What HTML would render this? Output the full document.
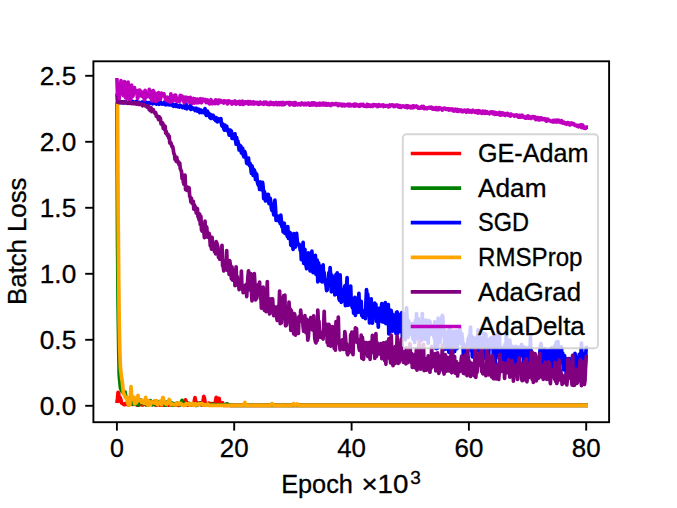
<!DOCTYPE html>
<html><head><meta charset="utf-8"><title>Batch Loss</title>
<style>
html,body{margin:0;padding:0;background:#fff;}
body{width:677px;height:508px;overflow:hidden;font-family:"Liberation Sans",sans-serif;}
svg{display:block;}
svg text{font-family:"Liberation Sans",sans-serif;font-size:25.2px;fill:#000;stroke:#000;stroke-width:0.3px;}
</style></head><body>
<svg width="677" height="508" viewBox="0 0 677 508">
<rect width="677" height="508" fill="#fff"/>
<g fill="none" stroke-width="3.7" stroke-linejoin="round" stroke-linecap="butt">
<path d="M116.9,402.9 L117.5,398.3 L118.1,392.3 L118.7,393.7 L119.2,399.7 L119.8,400.9 L120.4,397.9 L121.0,400.2 L121.6,403.2 L122.2,403.2 L122.8,403.8 L123.4,403.8 L123.9,404.7 L124.5,404.7 L125.1,403.7 L125.7,403.7 L126.3,403.5 L126.9,403.5 L127.5,404.6 L128.1,404.6 L128.6,404.0 L129.2,404.0 L129.8,403.3 L130.4,403.3 L131.0,403.4 L131.6,403.4 L132.2,404.4 L132.8,404.4 L133.3,403.5 L133.9,403.5 L134.5,403.1 L135.1,403.1 L135.7,403.2 L136.3,403.2 L136.9,405.1 L137.5,405.1 L138.0,404.5 L138.6,404.5 L139.2,404.6 L139.8,404.6 L140.4,404.1 L141.0,404.1 L141.6,404.8 L142.2,404.8 L142.7,404.9 L143.3,404.9 L143.9,403.4 L144.5,403.4 L145.1,404.2 L145.7,404.2 L146.3,404.7 L146.9,404.7 L147.4,404.9 L148.0,404.9 L148.6,404.4 L149.2,404.4 L149.8,403.3 L150.4,403.3 L151.0,403.8 L151.6,403.8 L152.1,403.3 L152.7,403.3 L153.3,403.3 L153.9,403.3 L154.5,402.8 L155.1,402.8 L155.7,405.2 L156.3,405.2 L156.8,403.5 L157.4,403.5 L158.0,404.8 L158.6,404.8 L159.2,404.7 L159.8,404.7 L160.4,405.1 L161.0,405.1 L161.5,403.4 L162.1,403.4 L162.7,405.2 L163.3,405.2 L163.9,403.9 L164.5,403.9 L165.1,404.8 L165.7,404.8 L166.2,403.4 L166.8,403.4 L167.4,404.5 L168.0,404.5 L168.6,405.1 L169.2,405.1 L169.8,403.0 L170.3,403.0 L170.9,404.7 L171.5,404.7 L172.1,404.3 L172.7,404.3 L173.3,404.8 L173.9,404.8 L174.5,404.8 L175.0,404.8 L175.6,404.2 L176.2,404.2 L176.8,405.2 L177.4,405.2 L178.0,405.3 L178.6,405.3 L179.2,403.8 L179.7,403.8 L180.3,404.4 L180.9,404.4 L181.5,402.9 L182.1,402.9 L182.7,402.9 L183.3,402.9 L183.9,405.3 L184.4,404.3 L185.0,402.1 L185.6,399.8 L186.2,401.5 L186.8,403.7 L187.4,405.1 L188.0,405.1 L188.6,403.5 L189.1,403.5 L189.7,404.3 L190.3,404.3 L190.9,404.6 L191.5,404.6 L192.1,404.1 L192.7,404.1 L193.3,404.9 L193.8,403.5 L194.4,400.5 L195.0,397.6 L195.6,400.7 L196.2,403.7 L196.8,402.9 L197.4,402.9 L198.0,403.8 L198.5,403.8 L199.1,403.3 L199.7,403.3 L200.3,402.9 L200.9,402.9 L201.5,405.1 L202.1,405.1 L202.7,403.3 L203.2,400.3 L203.8,396.3 L204.4,397.9 L205.0,401.9 L205.6,404.1 L206.2,403.9 L206.8,403.9 L207.4,403.8 L207.9,403.8 L208.5,403.2 L209.1,403.2 L209.7,404.8 L210.3,404.8 L210.9,403.8 L211.5,403.8 L212.1,403.5 L212.6,403.5 L213.2,404.4 L213.8,404.4 L214.4,405.0 L215.0,404.2 L215.6,400.7 L216.2,397.3 L216.8,399.1 L217.3,402.6 L217.9,401.7 L218.5,398.3 L219.1,398.4 L219.7,401.8 L220.3,403.7 L220.9,403.7 L221.4,403.0 L222.0,403.0 L222.6,402.9 L223.2,405.3 L223.8,405.3 L224.4,405.3 L225.0,405.3 L225.6,405.3 L226.1,405.3 L226.7,405.3 L227.3,405.3 L227.9,405.3 L228.5,405.3 L229.1,405.3 L229.7,405.3 L230.3,405.3 L230.8,405.3 L231.4,405.3 L232.0,405.3 L232.6,405.3 L233.2,405.3 L233.8,405.3 L234.4,405.3 L235.0,405.3 L235.5,405.3 L236.1,405.3 L236.7,405.3 L237.3,405.3 L237.9,405.3 L238.5,405.3 L239.1,405.3 L239.7,405.3 L240.2,405.3 L240.8,405.3 L241.4,405.3 L242.0,405.3 L242.6,405.3 L243.2,405.3 L243.8,405.3 L244.4,405.3 L244.9,405.3 L245.5,405.3 L246.1,405.3 L246.7,405.3 L247.3,405.3 L247.9,405.3 L248.5,405.3 L249.1,405.3 L249.6,405.3 L250.2,405.3 L250.8,405.3 L251.4,405.3 L252.0,405.3 L252.6,405.3 L253.2,405.3 L253.8,405.3 L254.3,405.3 L254.9,405.3 L255.5,405.3 L256.1,405.3 L256.7,405.3 L257.3,405.3 L257.9,405.3 L258.5,405.3 L259.0,405.3 L259.6,405.3 L260.2,405.3 L260.8,405.3 L261.4,405.3 L262.0,405.3 L262.6,405.3 L263.2,405.3 L263.7,405.3 L264.3,405.3 L264.9,405.3 L265.5,405.3 L266.1,405.3 L266.7,405.3 L267.3,405.3 L267.9,405.3 L268.4,405.3 L269.0,405.3 L269.6,405.3 L270.2,405.3 L270.8,405.3 L271.4,405.3 L272.0,405.3 L272.6,405.3 L273.1,405.3 L273.7,405.3 L274.3,405.3 L274.9,405.3 L275.5,405.3 L276.1,405.3 L276.7,405.3 L277.2,405.3 L277.8,405.3 L278.4,405.3 L279.0,405.3 L279.6,405.3 L280.2,405.3 L280.8,405.3 L281.4,405.3 L281.9,405.3 L282.5,405.3 L283.1,405.3 L283.7,405.3 L284.3,405.3 L284.9,405.3 L285.5,405.3 L286.1,405.3 L286.6,405.3 L287.2,405.3 L287.8,405.3 L288.4,405.3 L289.0,405.3 L289.6,405.3 L290.2,405.3 L290.8,405.3 L291.3,405.3 L291.9,405.3 L292.5,405.3 L293.1,405.3 L293.7,405.3 L294.3,405.3 L294.9,405.3 L295.5,405.3 L296.0,405.3 L296.6,405.3 L297.2,405.3 L297.8,405.3 L298.4,405.3 L299.0,405.3 L299.6,405.3 L300.2,405.3 L300.7,405.3 L301.3,405.3 L301.9,405.3 L302.5,405.3 L303.1,405.3 L303.7,405.3 L304.3,405.3 L304.9,405.3 L305.4,405.3 L306.0,405.3 L306.6,405.3 L307.2,405.3 L307.8,405.3 L308.4,405.3 L309.0,405.3 L309.6,405.3 L310.1,405.3 L310.7,405.3 L311.3,405.3 L311.9,405.3 L312.5,405.3 L313.1,405.3 L313.7,405.3 L314.3,405.3 L314.8,405.3 L315.4,405.3 L316.0,405.3 L316.6,405.3 L317.2,405.3 L317.8,405.3 L318.4,405.3 L319.0,405.3 L319.5,405.3 L320.1,405.3 L320.7,405.3 L321.3,405.3 L321.9,405.3 L322.5,405.3 L323.1,405.3 L323.7,405.3 L324.2,405.3 L324.8,405.3 L325.4,405.3 L326.0,405.3 L326.6,405.3 L327.2,405.3 L327.8,405.3 L328.3,405.3 L328.9,405.3 L329.5,405.3 L330.1,405.3 L330.7,405.3 L331.3,405.3 L331.9,405.3 L332.5,405.3 L333.0,405.3 L333.6,405.3 L334.2,405.3 L334.8,405.3 L335.4,405.3 L336.0,405.3 L336.6,405.3 L337.2,405.3 L337.7,405.3 L338.3,405.3 L338.9,405.3 L339.5,405.3 L340.1,405.3 L340.7,405.3 L341.3,405.3 L341.9,405.3 L342.4,405.3 L343.0,405.3 L343.6,405.3 L344.2,405.3 L344.8,405.3 L345.4,405.3 L346.0,405.3 L346.6,405.3 L347.1,405.3 L347.7,405.3 L348.3,405.3 L348.9,405.3 L349.5,405.3 L350.1,405.3 L350.7,405.3 L351.3,405.3 L351.8,405.3 L352.4,405.3 L353.0,405.3 L353.6,405.3 L354.2,405.3 L354.8,405.3 L355.4,405.3 L356.0,405.3 L356.5,405.3 L357.1,405.3 L357.7,405.3 L358.3,405.3 L358.9,405.3 L359.5,405.3 L360.1,405.3 L360.7,405.3 L361.2,405.3 L361.8,405.3 L362.4,405.3 L363.0,405.3 L363.6,405.3 L364.2,405.3 L364.8,405.3 L365.4,405.3 L365.9,405.3 L366.5,405.3 L367.1,405.3 L367.7,405.3 L368.3,405.3 L368.9,405.3 L369.5,405.3 L370.1,405.3 L370.6,405.3 L371.2,405.3 L371.8,405.3 L372.4,405.3 L373.0,405.3 L373.6,405.3 L374.2,405.3 L374.8,405.3 L375.3,405.3 L375.9,405.3 L376.5,405.3 L377.1,405.3 L377.7,405.3 L378.3,405.3 L378.9,405.3 L379.4,405.3 L380.0,405.3 L380.6,405.3 L381.2,405.3 L381.8,405.3 L382.4,405.3 L383.0,405.3 L383.6,405.3 L384.1,405.3 L384.7,405.3 L385.3,405.3 L385.9,405.3 L386.5,405.3 L387.1,405.3 L387.7,405.3 L388.3,405.3 L388.8,405.3 L389.4,405.3 L390.0,405.3 L390.6,405.3 L391.2,405.3 L391.8,405.3 L392.4,405.3 L393.0,405.3 L393.5,405.3 L394.1,405.3 L394.7,405.3 L395.3,405.3 L395.9,405.3 L396.5,405.3 L397.1,405.3 L397.7,405.3 L398.2,405.3 L398.8,405.3 L399.4,405.3 L400.0,405.3 L400.6,405.3 L401.2,405.3 L401.8,405.3 L402.4,405.3 L402.9,405.3 L403.5,405.3 L404.1,405.3 L404.7,405.3 L405.3,405.3 L405.9,405.3 L406.5,405.3 L407.1,405.3 L407.6,405.3 L408.2,405.3 L408.8,405.3 L409.4,405.3 L410.0,405.3 L410.6,405.3 L411.2,405.3 L411.8,405.3 L412.3,405.3 L412.9,405.3 L413.5,405.3 L414.1,405.3 L414.7,405.3 L415.3,405.3 L415.9,405.3 L416.5,405.3 L417.0,405.3 L417.6,405.3 L418.2,405.3 L418.8,405.3 L419.4,405.3 L420.0,405.3 L420.6,405.3 L421.2,405.3 L421.7,405.3 L422.3,405.3 L422.9,405.3 L423.5,405.3 L424.1,405.3 L424.7,405.3 L425.3,405.3 L425.9,405.3 L426.4,405.3 L427.0,405.3 L427.6,405.3 L428.2,405.3 L428.8,405.3 L429.4,405.3 L430.0,405.3 L430.5,405.3 L431.1,405.3 L431.7,405.3 L432.3,405.3 L432.9,405.3 L433.5,405.3 L434.1,405.3 L434.7,405.3 L435.2,405.3 L435.8,405.3 L436.4,405.3 L437.0,405.3 L437.6,405.3 L438.2,405.3 L438.8,405.3 L439.4,405.3 L439.9,405.3 L440.5,405.3 L441.1,405.3 L441.7,405.3 L442.3,405.3 L442.9,405.3 L443.5,405.3 L444.1,405.3 L444.6,405.3 L445.2,405.3 L445.8,405.3 L446.4,405.3 L447.0,405.3 L447.6,405.3 L448.2,405.3 L448.8,405.3 L449.3,405.3 L449.9,405.3 L450.5,405.3 L451.1,405.3 L451.7,405.3 L452.3,405.3 L452.9,405.3 L453.5,405.3 L454.0,405.3 L454.6,405.3 L455.2,405.3 L455.8,405.3 L456.4,405.3 L457.0,405.3 L457.6,405.3 L458.2,405.3 L458.7,405.3 L459.3,405.3 L459.9,405.3 L460.5,405.3 L461.1,405.3 L461.7,405.3 L462.3,405.3 L462.9,405.3 L463.4,405.3 L464.0,405.3 L464.6,405.3 L465.2,405.3 L465.8,405.3 L466.4,405.3 L467.0,405.3 L467.6,405.3 L468.1,405.3 L468.7,405.3 L469.3,405.3 L469.9,405.3 L470.5,405.3 L471.1,405.3 L471.7,405.3 L472.3,405.3 L472.8,405.3 L473.4,405.3 L474.0,405.3 L474.6,405.3 L475.2,405.3 L475.8,405.3 L476.4,405.3 L477.0,405.3 L477.5,405.3 L478.1,405.3 L478.7,405.3 L479.3,405.3 L479.9,405.3 L480.5,405.3 L481.1,405.3 L481.7,405.3 L482.2,405.3 L482.8,405.3 L483.4,405.3 L484.0,405.3 L484.6,405.3 L485.2,405.3 L485.8,405.3 L486.3,405.3 L486.9,405.3 L487.5,405.3 L488.1,405.3 L488.7,405.3 L489.3,405.3 L489.9,405.3 L490.5,405.3 L491.0,405.3 L491.6,405.3 L492.2,405.3 L492.8,405.3 L493.4,405.3 L494.0,405.3 L494.6,405.3 L495.2,405.3 L495.7,405.3 L496.3,405.3 L496.9,405.3 L497.5,405.3 L498.1,405.3 L498.7,405.3 L499.3,405.3 L499.9,405.3 L500.4,405.3 L501.0,405.3 L501.6,405.3 L502.2,405.3 L502.8,405.3 L503.4,405.3 L504.0,405.3 L504.6,405.3 L505.1,405.3 L505.7,405.3 L506.3,405.3 L506.9,405.3 L507.5,405.3 L508.1,405.3 L508.7,405.3 L509.3,405.3 L509.8,405.3 L510.4,405.3 L511.0,405.3 L511.6,405.3 L512.2,405.3 L512.8,405.3 L513.4,405.3 L514.0,405.3 L514.5,405.3 L515.1,405.3 L515.7,405.3 L516.3,405.3 L516.9,405.3 L517.5,405.3 L518.1,405.3 L518.7,405.3 L519.2,405.3 L519.8,405.3 L520.4,405.3 L521.0,405.3 L521.6,405.3 L522.2,405.3 L522.8,405.3 L523.4,405.3 L523.9,405.3 L524.5,405.3 L525.1,405.3 L525.7,405.3 L526.3,405.3 L526.9,405.3 L527.5,405.3 L528.1,405.3 L528.6,405.3 L529.2,405.3 L529.8,405.3 L530.4,405.3 L531.0,405.3 L531.6,405.3 L532.2,405.3 L532.8,405.3 L533.3,405.3 L533.9,405.3 L534.5,405.3 L535.1,405.3 L535.7,405.3 L536.3,405.3 L536.9,405.3 L537.4,405.3 L538.0,405.3 L538.6,405.3 L539.2,405.3 L539.8,405.3 L540.4,405.3 L541.0,405.3 L541.6,405.3 L542.1,405.3 L542.7,405.3 L543.3,405.3 L543.9,405.3 L544.5,405.3 L545.1,405.3 L545.7,405.3 L546.3,405.3 L546.8,405.3 L547.4,405.3 L548.0,405.3 L548.6,405.3 L549.2,405.3 L549.8,405.3 L550.4,405.3 L551.0,405.3 L551.5,405.3 L552.1,405.3 L552.7,405.3 L553.3,405.3 L553.9,405.3 L554.5,405.3 L555.1,405.3 L555.7,405.3 L556.2,405.3 L556.8,405.3 L557.4,405.3 L558.0,405.3 L558.6,405.3 L559.2,405.3 L559.8,405.3 L560.4,405.3 L560.9,405.3 L561.5,405.3 L562.1,405.3 L562.7,405.3 L563.3,405.3 L563.9,405.3 L564.5,405.3 L565.1,405.3 L565.6,405.3 L566.2,405.3 L566.8,405.3 L567.4,405.3 L568.0,405.3 L568.6,405.3 L569.2,405.3 L569.8,405.3 L570.3,405.3 L570.9,405.3 L571.5,405.3 L572.1,405.3 L572.7,405.3 L573.3,405.3 L573.9,405.3 L574.5,405.3 L575.0,405.3 L575.6,405.3 L576.2,405.3 L576.8,405.3 L577.4,405.3 L578.0,405.3 L578.6,405.3 L579.2,405.3 L579.7,405.3 L580.3,405.3 L580.9,405.3 L581.5,405.3 L582.1,405.3 L582.7,405.3 L583.3,405.3 L583.9,405.3 L584.4,405.3 L585.0,405.3 L585.6,405.3 L586.2,405.3 L588.0,405.3" stroke="#ff0000"/>
<path d="M116.9,102.2 L117.5,236.4 L118.1,305.9 L118.7,348.2 L119.2,375.2 L119.8,381.4 L120.4,387.7 L121.0,389.5 L121.6,390.7 L122.2,391.7 L122.8,392.3 L123.4,392.9 L123.9,393.4 L124.5,394.3 L125.1,392.1 L125.7,396.1 L126.3,396.8 L126.9,397.4 L127.5,398.0 L128.1,398.6 L128.6,399.1 L129.2,399.7 L129.8,400.3 L130.4,401.5 L131.0,400.4 L131.6,400.5 L132.2,403.8 L132.8,403.8 L133.3,399.0 L133.9,399.1 L134.5,400.2 L135.1,400.2 L135.7,404.1 L136.3,404.1 L136.9,402.4 L137.5,402.5 L138.0,405.2 L138.6,405.2 L139.2,400.3 L139.8,400.4 L140.4,400.1 L141.0,400.1 L141.6,402.3 L142.2,402.4 L142.7,403.3 L143.3,403.3 L143.9,401.0 L144.5,401.0 L145.1,403.4 L145.7,403.5 L146.3,405.1 L146.9,405.1 L147.4,402.0 L148.0,402.0 L148.6,403.3 L149.2,403.3 L149.8,400.6 L150.4,400.6 L151.0,402.9 L151.6,403.0 L152.1,404.8 L152.7,404.8 L153.3,401.9 L153.9,401.9 L154.5,401.2 L155.1,401.2 L155.7,404.8 L156.3,404.6 L156.8,403.0 L157.4,401.5 L158.0,402.1 L158.6,403.4 L159.2,402.6 L159.8,402.6 L160.4,402.7 L161.0,402.7 L161.5,403.0 L162.1,403.0 L162.7,402.2 L163.3,402.3 L163.9,402.7 L164.5,402.8 L165.1,405.2 L165.7,405.2 L166.2,402.1 L166.8,402.1 L167.4,402.6 L168.0,402.7 L168.6,403.2 L169.2,403.2 L169.8,402.9 L170.3,402.9 L170.9,402.9 L171.5,402.9 L172.1,405.2 L172.7,405.2 L173.3,403.5 L173.9,403.5 L174.5,404.9 L175.0,404.9 L175.6,404.6 L176.2,404.6 L176.8,403.2 L177.4,403.2 L178.0,403.9 L178.6,403.9 L179.2,404.6 L179.7,404.6 L180.3,404.8 L180.9,403.6 L181.5,401.6 L182.1,400.3 L182.7,402.3 L183.3,404.2 L183.9,404.4 L184.4,404.5 L185.0,403.4 L185.6,403.5 L186.2,404.5 L186.8,404.5 L187.4,404.2 L188.0,404.2 L188.6,403.4 L189.1,403.4 L189.7,404.6 L190.3,404.6 L190.9,404.8 L191.5,404.8 L192.1,404.5 L192.7,404.5 L193.3,404.6 L193.8,404.6 L194.4,403.6 L195.0,403.6 L195.6,405.3 L196.2,405.3 L196.8,405.0 L197.4,405.1 L198.0,404.0 L198.5,404.0 L199.1,404.0 L199.7,403.0 L200.3,403.0 L200.9,404.1 L201.5,404.3 L202.1,404.3 L202.7,405.2 L203.2,405.2 L203.8,404.8 L204.4,404.9 L205.0,404.9 L205.6,404.9 L206.2,404.6 L206.8,404.6 L207.4,404.5 L207.9,404.5 L208.5,404.3 L209.1,404.3 L209.7,405.2 L210.3,405.2 L210.9,405.0 L211.5,405.0 L212.1,404.4 L212.6,404.4 L213.2,404.3 L213.8,404.3 L214.4,404.9 L215.0,404.9 L215.6,405.2 L216.2,405.2 L216.8,405.2 L217.3,405.2 L217.9,404.5 L218.5,404.5 L219.1,405.2 L219.7,405.2 L220.3,405.1 L220.9,405.1 L221.4,405.1 L222.0,405.1 L222.6,404.9 L223.2,404.9 L223.8,404.7 L224.4,404.7 L225.0,405.2 L225.6,405.1 L226.1,404.5 L226.7,403.8 L227.3,403.9 L227.9,404.5 L228.5,404.9 L229.1,404.9 L229.7,404.9 L230.3,405.3 L230.8,405.3 L231.4,405.3 L232.0,405.3 L232.6,405.3 L233.2,405.3 L233.8,405.3 L234.4,405.3 L235.0,405.3 L235.5,405.3 L236.1,405.3 L236.7,405.3 L237.3,405.3 L237.9,405.3 L238.5,405.3 L239.1,405.3 L239.7,405.3 L240.2,405.3 L240.8,405.3 L241.4,405.3 L242.0,405.3 L242.6,405.3 L243.2,405.3 L243.8,405.3 L244.4,405.3 L244.9,405.3 L245.5,405.3 L246.1,405.3 L246.7,405.3 L247.3,405.3 L247.9,405.3 L248.5,405.3 L249.1,405.3 L249.6,405.3 L250.2,405.3 L250.8,405.3 L251.4,405.3 L252.0,405.3 L252.6,405.3 L253.2,405.3 L253.8,405.3 L254.3,405.3 L254.9,405.3 L255.5,405.3 L256.1,405.3 L256.7,405.3 L257.3,405.3 L257.9,405.3 L258.5,405.3 L259.0,405.3 L259.6,405.3 L260.2,405.3 L260.8,405.3 L261.4,405.3 L262.0,405.3 L262.6,405.3 L263.2,405.3 L263.7,405.3 L264.3,405.3 L264.9,405.3 L265.5,405.3 L266.1,405.3 L266.7,405.3 L267.3,405.3 L267.9,405.3 L268.4,405.3 L269.0,405.3 L269.6,405.3 L270.2,405.3 L270.8,405.3 L271.4,405.3 L272.0,405.3 L272.6,405.3 L273.1,405.3 L273.7,405.3 L274.3,405.3 L274.9,405.3 L275.5,405.3 L276.1,405.3 L276.7,405.3 L277.2,405.3 L277.8,405.3 L278.4,405.3 L279.0,405.3 L279.6,405.3 L280.2,405.3 L280.8,405.3 L281.4,405.3 L281.9,405.3 L282.5,405.3 L283.1,405.3 L283.7,405.3 L284.3,405.3 L284.9,405.3 L285.5,405.3 L286.1,405.3 L286.6,405.3 L287.2,405.3 L287.8,405.3 L288.4,405.3 L289.0,405.3 L289.6,405.3 L290.2,405.3 L290.8,405.3 L291.3,405.3 L291.9,405.3 L292.5,405.3 L293.1,405.3 L293.7,405.3 L294.3,405.3 L294.9,405.3 L295.5,405.3 L296.0,405.3 L296.6,405.3 L297.2,405.3 L297.8,405.3 L298.4,405.3 L299.0,405.3 L299.6,405.3 L300.2,405.3 L300.7,405.3 L301.3,405.3 L301.9,405.3 L302.5,405.3 L303.1,405.3 L303.7,405.3 L304.3,405.3 L304.9,405.3 L305.4,405.3 L306.0,405.3 L306.6,405.3 L307.2,405.3 L307.8,405.3 L308.4,405.3 L309.0,405.3 L309.6,405.3 L310.1,405.3 L310.7,405.3 L311.3,405.3 L311.9,405.3 L312.5,405.3 L313.1,405.3 L313.7,405.3 L314.3,405.3 L314.8,405.3 L315.4,405.3 L316.0,405.3 L316.6,405.3 L317.2,405.3 L317.8,405.3 L318.4,405.3 L319.0,405.3 L319.5,405.3 L320.1,405.3 L320.7,405.3 L321.3,405.3 L321.9,405.3 L322.5,405.3 L323.1,405.3 L323.7,405.3 L324.2,405.3 L324.8,405.3 L325.4,405.3 L326.0,405.3 L326.6,405.3 L327.2,405.3 L327.8,405.3 L328.3,405.3 L328.9,405.3 L329.5,405.3 L330.1,405.3 L330.7,405.3 L331.3,405.3 L331.9,405.3 L332.5,405.3 L333.0,405.3 L333.6,405.3 L334.2,405.3 L334.8,405.3 L335.4,405.3 L336.0,405.3 L336.6,405.3 L337.2,405.3 L337.7,405.3 L338.3,405.3 L338.9,405.3 L339.5,405.3 L340.1,405.3 L340.7,405.3 L341.3,405.3 L341.9,405.3 L342.4,405.3 L343.0,405.3 L343.6,405.3 L344.2,405.3 L344.8,405.3 L345.4,405.3 L346.0,405.3 L346.6,405.3 L347.1,405.3 L347.7,405.3 L348.3,405.3 L348.9,405.3 L349.5,405.3 L350.1,405.3 L350.7,405.3 L351.3,405.3 L351.8,405.3 L352.4,405.3 L353.0,405.3 L353.6,405.3 L354.2,405.3 L354.8,405.3 L355.4,405.3 L356.0,405.3 L356.5,405.3 L357.1,405.3 L357.7,405.3 L358.3,405.3 L358.9,405.3 L359.5,405.3 L360.1,405.3 L360.7,405.3 L361.2,405.3 L361.8,405.3 L362.4,405.3 L363.0,405.3 L363.6,405.3 L364.2,405.3 L364.8,405.3 L365.4,405.3 L365.9,405.3 L366.5,405.3 L367.1,405.3 L367.7,405.3 L368.3,405.3 L368.9,405.3 L369.5,405.3 L370.1,405.3 L370.6,405.3 L371.2,405.3 L371.8,405.3 L372.4,405.3 L373.0,405.3 L373.6,405.3 L374.2,405.3 L374.8,405.3 L375.3,405.3 L375.9,405.3 L376.5,405.3 L377.1,405.3 L377.7,405.3 L378.3,405.3 L378.9,405.3 L379.4,405.3 L380.0,405.3 L380.6,405.3 L381.2,405.3 L381.8,405.3 L382.4,405.3 L383.0,405.3 L383.6,405.3 L384.1,405.3 L384.7,405.3 L385.3,405.3 L385.9,405.3 L386.5,405.3 L387.1,405.3 L387.7,405.3 L388.3,405.3 L388.8,405.3 L389.4,405.3 L390.0,405.3 L390.6,405.3 L391.2,405.3 L391.8,405.3 L392.4,405.3 L393.0,405.3 L393.5,405.3 L394.1,405.3 L394.7,405.3 L395.3,405.3 L395.9,405.3 L396.5,405.3 L397.1,405.3 L397.7,405.3 L398.2,405.3 L398.8,405.3 L399.4,405.3 L400.0,405.3 L400.6,405.3 L401.2,405.3 L401.8,405.3 L402.4,405.3 L402.9,405.3 L403.5,405.3 L404.1,405.3 L404.7,405.3 L405.3,405.3 L405.9,405.3 L406.5,405.3 L407.1,405.3 L407.6,405.3 L408.2,405.3 L408.8,405.3 L409.4,405.3 L410.0,405.3 L410.6,405.3 L411.2,405.3 L411.8,405.3 L412.3,405.3 L412.9,405.3 L413.5,405.3 L414.1,405.3 L414.7,405.3 L415.3,405.3 L415.9,405.3 L416.5,405.3 L417.0,405.3 L417.6,405.3 L418.2,405.3 L418.8,405.3 L419.4,405.3 L420.0,405.3 L420.6,405.3 L421.2,405.3 L421.7,405.3 L422.3,405.3 L422.9,405.3 L423.5,405.3 L424.1,405.3 L424.7,405.3 L425.3,405.3 L425.9,405.3 L426.4,405.3 L427.0,405.3 L427.6,405.3 L428.2,405.3 L428.8,405.3 L429.4,405.3 L430.0,405.3 L430.5,405.3 L431.1,405.3 L431.7,405.3 L432.3,405.3 L432.9,405.3 L433.5,405.3 L434.1,405.3 L434.7,405.3 L435.2,405.3 L435.8,405.3 L436.4,405.3 L437.0,405.3 L437.6,405.3 L438.2,405.3 L438.8,405.3 L439.4,405.3 L439.9,405.3 L440.5,405.3 L441.1,405.3 L441.7,405.3 L442.3,405.3 L442.9,405.3 L443.5,405.3 L444.1,405.3 L444.6,405.3 L445.2,405.3 L445.8,405.3 L446.4,405.3 L447.0,405.3 L447.6,405.3 L448.2,405.3 L448.8,405.3 L449.3,405.3 L449.9,405.3 L450.5,405.3 L451.1,405.3 L451.7,405.3 L452.3,405.3 L452.9,405.3 L453.5,405.3 L454.0,405.3 L454.6,405.3 L455.2,405.3 L455.8,405.3 L456.4,405.3 L457.0,405.3 L457.6,405.3 L458.2,405.3 L458.7,405.3 L459.3,405.3 L459.9,405.3 L460.5,405.3 L461.1,405.3 L461.7,405.3 L462.3,405.3 L462.9,405.3 L463.4,405.3 L464.0,405.3 L464.6,405.3 L465.2,405.3 L465.8,405.3 L466.4,405.3 L467.0,405.3 L467.6,405.3 L468.1,405.3 L468.7,405.3 L469.3,405.3 L469.9,405.3 L470.5,405.3 L471.1,405.3 L471.7,405.3 L472.3,405.3 L472.8,405.3 L473.4,405.3 L474.0,405.3 L474.6,405.3 L475.2,405.3 L475.8,405.3 L476.4,405.3 L477.0,405.3 L477.5,405.3 L478.1,405.3 L478.7,405.3 L479.3,405.3 L479.9,405.3 L480.5,405.3 L481.1,405.3 L481.7,405.3 L482.2,405.3 L482.8,405.3 L483.4,405.3 L484.0,405.3 L484.6,405.3 L485.2,405.3 L485.8,405.3 L486.3,405.3 L486.9,405.3 L487.5,405.3 L488.1,405.3 L488.7,405.3 L489.3,405.3 L489.9,405.3 L490.5,405.3 L491.0,405.3 L491.6,405.3 L492.2,405.3 L492.8,405.3 L493.4,405.3 L494.0,405.3 L494.6,405.3 L495.2,405.3 L495.7,405.3 L496.3,405.3 L496.9,405.3 L497.5,405.3 L498.1,405.3 L498.7,405.3 L499.3,405.3 L499.9,405.3 L500.4,405.3 L501.0,405.3 L501.6,405.3 L502.2,405.3 L502.8,405.3 L503.4,405.3 L504.0,405.3 L504.6,405.3 L505.1,405.3 L505.7,405.3 L506.3,405.3 L506.9,405.3 L507.5,405.3 L508.1,405.3 L508.7,405.3 L509.3,405.3 L509.8,405.3 L510.4,405.3 L511.0,405.3 L511.6,405.3 L512.2,405.3 L512.8,405.3 L513.4,405.3 L514.0,405.3 L514.5,405.3 L515.1,405.3 L515.7,405.3 L516.3,405.3 L516.9,405.3 L517.5,405.3 L518.1,405.3 L518.7,405.3 L519.2,405.3 L519.8,405.3 L520.4,405.3 L521.0,405.3 L521.6,405.3 L522.2,405.3 L522.8,405.3 L523.4,405.3 L523.9,405.3 L524.5,405.3 L525.1,405.3 L525.7,405.3 L526.3,405.3 L526.9,405.3 L527.5,405.3 L528.1,405.3 L528.6,405.3 L529.2,405.3 L529.8,405.3 L530.4,405.3 L531.0,405.3 L531.6,405.3 L532.2,405.3 L532.8,405.3 L533.3,405.3 L533.9,405.3 L534.5,405.3 L535.1,405.3 L535.7,405.3 L536.3,405.3 L536.9,405.3 L537.4,405.3 L538.0,405.3 L538.6,405.3 L539.2,405.3 L539.8,405.3 L540.4,405.3 L541.0,405.3 L541.6,405.3 L542.1,405.3 L542.7,405.3 L543.3,405.3 L543.9,405.3 L544.5,405.3 L545.1,405.3 L545.7,405.3 L546.3,405.3 L546.8,405.3 L547.4,405.3 L548.0,405.3 L548.6,405.3 L549.2,405.3 L549.8,405.3 L550.4,405.3 L551.0,405.3 L551.5,405.3 L552.1,405.3 L552.7,405.3 L553.3,405.3 L553.9,405.3 L554.5,405.3 L555.1,405.3 L555.7,405.3 L556.2,405.3 L556.8,405.3 L557.4,405.3 L558.0,405.3 L558.6,405.3 L559.2,405.3 L559.8,405.3 L560.4,405.3 L560.9,405.3 L561.5,405.3 L562.1,405.3 L562.7,405.3 L563.3,405.3 L563.9,405.3 L564.5,405.3 L565.1,405.3 L565.6,405.3 L566.2,405.3 L566.8,405.3 L567.4,405.3 L568.0,405.3 L568.6,405.3 L569.2,405.3 L569.8,405.3 L570.3,405.3 L570.9,405.3 L571.5,405.3 L572.1,405.3 L572.7,405.3 L573.3,405.3 L573.9,405.3 L574.5,405.3 L575.0,405.3 L575.6,405.3 L576.2,405.3 L576.8,405.3 L577.4,405.3 L578.0,405.3 L578.6,405.3 L579.2,405.3 L579.7,405.3 L580.3,405.3 L580.9,405.3 L581.5,405.3 L582.1,405.3 L582.7,405.3 L583.3,405.3 L583.9,405.3 L584.4,405.3 L585.0,405.3 L585.6,405.3 L586.2,405.3 L588.0,405.3" stroke="#008000"/>
<path d="M116.9,101.9 L117.5,101.8 L118.1,102.0 L118.7,102.4 L119.2,102.7 L119.8,101.7 L120.4,101.6 L121.0,102.6 L121.6,102.5 L122.2,101.9 L122.8,101.8 L123.4,102.6 L123.9,102.5 L124.5,102.2 L125.1,102.2 L125.7,101.8 L126.3,103.0 L126.9,102.8 L127.5,103.0 L128.1,102.8 L128.6,102.4 L129.2,102.9 L129.8,102.0 L130.4,102.7 L131.0,102.1 L131.6,102.3 L132.2,103.0 L132.8,101.5 L133.3,103.0 L133.9,102.6 L134.5,102.2 L135.1,102.2 L135.7,101.8 L136.3,102.6 L136.9,101.5 L137.5,102.2 L138.0,102.5 L138.6,103.3 L139.2,102.4 L139.8,103.3 L140.4,103.1 L141.0,102.6 L141.6,102.9 L142.2,102.0 L142.7,102.7 L143.3,103.1 L143.9,102.2 L144.5,102.0 L145.1,101.9 L145.7,102.2 L146.3,102.3 L146.9,103.3 L147.4,102.7 L148.0,102.9 L148.6,102.5 L149.2,102.5 L149.8,103.0 L150.4,103.3 L151.0,102.3 L151.6,102.8 L152.1,103.2 L152.7,103.8 L153.3,102.6 L153.9,102.8 L154.5,103.2 L155.1,102.4 L155.7,103.3 L156.3,104.0 L156.8,102.7 L157.4,103.1 L158.0,102.4 L158.6,103.2 L159.2,104.2 L159.8,103.3 L160.4,101.8 L161.0,102.9 L161.5,103.6 L162.1,104.1 L162.7,103.3 L163.3,103.4 L163.9,104.1 L164.5,102.1 L165.1,104.6 L165.7,103.6 L166.2,103.4 L166.8,104.6 L167.4,102.4 L168.0,103.3 L168.6,103.6 L169.2,104.8 L169.8,103.4 L170.3,104.4 L170.9,104.0 L171.5,104.9 L172.1,103.9 L172.7,105.7 L173.3,106.2 L173.9,104.7 L174.5,104.9 L175.0,105.7 L175.6,106.2 L176.2,104.4 L176.8,106.2 L177.4,106.7 L178.0,106.7 L178.6,105.8 L179.2,107.0 L179.7,106.3 L180.3,105.3 L180.9,105.7 L181.5,106.8 L182.1,106.7 L182.7,107.6 L183.3,107.4 L183.9,105.9 L184.4,106.6 L185.0,108.0 L185.6,107.0 L186.2,104.4 L186.8,108.8 L187.4,107.3 L188.0,106.9 L188.6,107.8 L189.1,107.2 L189.7,107.3 L190.3,105.2 L190.9,109.4 L191.5,108.2 L192.1,107.5 L192.7,108.8 L193.3,108.7 L193.8,109.0 L194.4,108.4 L195.0,110.5 L195.6,108.6 L196.2,108.1 L196.8,110.8 L197.4,111.1 L198.0,109.3 L198.5,109.2 L199.1,111.0 L199.7,112.5 L200.3,110.0 L200.9,111.3 L201.5,110.3 L202.1,112.5 L202.7,111.5 L203.2,111.3 L203.8,112.6 L204.4,112.4 L205.0,108.7 L205.6,112.6 L206.2,115.4 L206.8,115.0 L207.4,111.2 L207.9,115.1 L208.5,112.9 L209.1,114.6 L209.7,117.3 L210.3,114.2 L210.9,118.5 L211.5,118.2 L212.1,117.7 L212.6,116.4 L213.2,115.3 L213.8,116.7 L214.4,119.4 L215.0,118.1 L215.6,120.5 L216.2,117.6 L216.8,121.3 L217.3,121.9 L217.9,121.5 L218.5,118.9 L219.1,119.6 L219.7,119.3 L220.3,119.8 L220.9,118.6 L221.4,123.7 L222.0,126.0 L222.6,123.7 L223.2,124.7 L223.8,128.8 L224.4,130.1 L225.0,125.0 L225.6,130.0 L226.1,129.2 L226.7,126.2 L227.3,130.8 L227.9,129.2 L228.5,130.3 L229.1,135.1 L229.7,134.2 L230.3,130.1 L230.8,135.1 L231.4,131.2 L232.0,138.3 L232.6,137.1 L233.2,138.3 L233.8,134.6 L234.4,136.0 L235.0,133.8 L235.5,139.9 L236.1,144.2 L236.7,137.6 L237.3,142.7 L237.9,141.3 L238.5,145.3 L239.1,149.9 L239.7,145.1 L240.2,150.4 L240.8,146.0 L241.4,153.0 L242.0,150.7 L242.6,148.2 L243.2,154.9 L243.8,156.8 L244.4,151.3 L244.9,152.1 L245.5,154.5 L246.1,158.1 L246.7,163.4 L247.3,163.7 L247.9,159.7 L248.5,158.1 L249.1,164.7 L249.6,165.7 L250.2,163.5 L250.8,168.3 L251.4,173.3 L252.0,165.9 L252.6,168.8 L253.2,175.5 L253.8,169.4 L254.3,170.2 L254.9,171.8 L255.5,179.5 L256.1,173.6 L256.7,174.4 L257.3,181.5 L257.9,184.2 L258.5,185.3 L259.0,182.8 L259.6,189.5 L260.2,181.9 L260.8,186.4 L261.4,186.7 L262.0,190.0 L262.6,182.4 L263.2,187.5 L263.7,198.6 L264.3,191.4 L264.9,194.8 L265.5,201.0 L266.1,194.3 L266.7,196.1 L267.3,199.6 L267.9,194.3 L268.4,194.6 L269.0,203.6 L269.6,201.1 L270.2,198.3 L270.8,202.0 L271.4,208.5 L272.0,210.5 L272.6,208.0 L273.1,205.1 L273.7,214.8 L274.3,206.9 L274.9,200.1 L275.5,208.2 L276.1,220.4 L276.7,219.1 L277.2,216.2 L277.8,216.2 L278.4,219.2 L279.0,221.3 L279.6,220.6 L280.2,223.5 L280.8,215.1 L281.4,220.9 L281.9,226.9 L282.5,222.9 L283.1,232.0 L283.7,226.0 L284.3,223.3 L284.9,233.4 L285.5,226.7 L286.1,229.5 L286.6,231.9 L287.2,236.3 L287.8,226.5 L288.4,238.5 L289.0,234.6 L289.6,232.2 L290.2,232.8 L290.8,244.9 L291.3,245.4 L291.9,239.7 L292.5,237.3 L293.1,249.4 L293.7,233.7 L294.3,235.3 L294.9,244.1 L295.5,247.0 L296.0,237.7 L296.6,233.3 L297.2,240.8 L297.8,244.7 L298.4,244.3 L299.0,244.1 L299.6,245.0 L300.2,250.4 L300.7,246.7 L301.3,259.6 L301.9,253.6 L302.5,249.1 L303.1,242.3 L303.7,263.4 L304.3,256.1 L304.9,249.3 L305.4,262.8 L306.0,265.4 L306.6,268.6 L307.2,265.8 L307.8,264.2 L308.4,252.8 L309.0,258.5 L309.6,255.6 L310.1,270.9 L310.7,266.4 L311.3,261.6 L311.9,251.1 L312.5,262.8 L313.1,272.7 L313.7,262.5 L314.3,259.8 L314.8,266.9 L315.4,255.3 L316.0,274.5 L316.6,272.2 L317.2,260.2 L317.8,282.0 L318.4,262.6 L319.0,265.8 L319.5,268.9 L320.1,273.0 L320.7,266.3 L321.3,281.1 L321.9,281.8 L322.5,272.5 L323.1,264.9 L323.7,279.0 L324.2,272.6 L324.8,281.5 L325.4,283.2 L326.0,284.7 L326.6,290.6 L327.2,290.0 L327.8,279.8 L328.3,280.7 L328.9,272.5 L329.5,281.5 L330.1,267.6 L330.7,276.1 L331.3,291.8 L331.9,275.0 L332.5,277.9 L333.0,290.2 L333.6,288.5 L334.2,285.9 L334.8,294.8 L335.4,282.6 L336.0,274.5 L336.6,289.7 L337.2,272.8 L337.7,294.5 L338.3,278.1 L338.9,298.3 L339.5,300.3 L340.1,274.9 L340.7,290.9 L341.3,302.3 L341.9,301.4 L342.4,296.2 L343.0,298.1 L343.6,289.6 L344.2,290.0 L344.8,285.9 L345.4,305.7 L346.0,292.0 L346.6,284.6 L347.1,277.7 L347.7,305.3 L348.3,299.3 L348.9,288.3 L349.5,303.4 L350.1,304.7 L350.7,286.0 L351.3,305.3 L351.8,305.3 L352.4,307.9 L353.0,299.0 L353.6,313.2 L354.2,302.2 L354.8,297.4 L355.4,315.4 L356.0,298.4 L356.5,302.8 L357.1,309.4 L357.7,312.3 L358.3,300.9 L358.9,293.4 L359.5,308.1 L360.1,308.8 L360.7,312.6 L361.2,301.3 L361.8,315.6 L362.4,314.8 L363.0,317.3 L363.6,315.0 L364.2,313.3 L364.8,310.7 L365.4,318.6 L365.9,303.1 L366.5,289.7 L367.1,294.8 L367.7,294.3 L368.3,302.0 L368.9,307.0 L369.5,323.0 L370.1,319.4 L370.6,304.0 L371.2,298.9 L371.8,321.4 L372.4,323.0 L373.0,314.7 L373.6,304.3 L374.2,307.6 L374.8,303.0 L375.3,306.9 L375.9,304.6 L376.5,321.4 L377.1,321.7 L377.7,315.4 L378.3,327.1 L378.9,308.4 L379.4,309.8 L380.0,320.9 L380.6,318.9 L381.2,308.6 L381.8,303.5 L382.4,322.0 L383.0,321.8 L383.6,315.9 L384.1,322.2 L384.7,308.4 L385.3,302.6 L385.9,323.6 L386.5,322.9 L387.1,321.2 L387.7,308.9 L388.3,304.6 L388.8,333.9 L389.4,333.0 L390.0,330.0 L390.6,310.2 L391.2,310.6 L391.8,314.5 L392.4,331.1 L393.0,314.7 L393.5,315.5 L394.1,316.6 L394.7,329.4 L395.3,324.1 L395.9,333.3 L396.5,312.5 L397.1,312.0 L397.7,333.5 L398.2,313.9 L398.8,330.4 L399.4,327.6 L400.0,317.1 L400.6,318.7 L401.2,331.8 L401.8,312.6 L402.4,337.9 L402.9,313.5 L403.5,316.8 L404.1,329.9 L404.7,315.9 L405.3,339.8 L405.9,324.8 L406.5,307.9 L407.1,318.0 L407.6,328.3 L408.2,337.2 L408.8,320.9 L409.4,324.9 L410.0,329.6 L410.6,332.0 L411.2,334.1 L411.8,323.6 L412.3,325.0 L412.9,338.6 L413.5,339.6 L414.1,326.8 L414.7,342.4 L415.3,320.6 L415.9,338.1 L416.5,313.5 L417.0,331.5 L417.6,335.1 L418.2,318.5 L418.8,339.5 L419.4,335.4 L420.0,332.8 L420.6,333.1 L421.2,322.1 L421.7,340.5 L422.3,313.6 L422.9,334.5 L423.5,323.1 L424.1,335.4 L424.7,325.3 L425.3,339.3 L425.9,320.1 L426.4,322.8 L427.0,325.3 L427.6,330.5 L428.2,343.1 L428.8,320.5 L429.4,335.2 L430.0,321.6 L430.5,330.9 L431.1,328.9 L431.7,325.6 L432.3,334.1 L432.9,330.6 L433.5,328.7 L434.1,338.1 L434.7,321.9 L435.2,347.9 L435.8,329.1 L436.4,348.7 L437.0,327.2 L437.6,348.1 L438.2,318.0 L438.8,323.7 L439.4,326.2 L439.9,342.4 L440.5,330.2 L441.1,331.5 L441.7,318.3 L442.3,315.4 L442.9,317.5 L443.5,335.7 L444.1,329.7 L444.6,349.5 L445.2,335.3 L445.8,333.7 L446.4,344.5 L447.0,348.9 L447.6,332.8 L448.2,330.4 L448.8,352.3 L449.3,338.6 L449.9,326.9 L450.5,339.8 L451.1,349.7 L451.7,339.5 L452.3,348.3 L452.9,342.4 L453.5,331.1 L454.0,342.5 L454.6,351.7 L455.2,343.5 L455.8,340.2 L456.4,330.9 L457.0,348.6 L457.6,340.8 L458.2,339.2 L458.7,340.7 L459.3,342.1 L459.9,327.8 L460.5,339.3 L461.1,343.8 L461.7,333.3 L462.3,338.1 L462.9,343.8 L463.4,355.4 L464.0,343.9 L464.6,347.3 L465.2,356.2 L465.8,354.1 L466.4,351.9 L467.0,349.7 L467.6,349.2 L468.1,339.0 L468.7,337.8 L469.3,335.9 L469.9,337.1 L470.5,327.1 L471.1,350.6 L471.7,336.2 L472.3,356.8 L472.8,346.9 L473.4,349.5 L474.0,337.8 L474.6,358.0 L475.2,338.4 L475.8,341.9 L476.4,348.5 L477.0,349.5 L477.5,350.6 L478.1,329.9 L478.7,338.3 L479.3,337.0 L479.9,348.7 L480.5,337.6 L481.1,354.9 L481.7,358.7 L482.2,360.0 L482.8,358.0 L483.4,341.7 L484.0,333.4 L484.6,358.1 L485.2,358.2 L485.8,334.1 L486.3,349.3 L486.9,339.1 L487.5,357.3 L488.1,346.0 L488.7,355.6 L489.3,340.4 L489.9,348.2 L490.5,338.0 L491.0,342.6 L491.6,347.5 L492.2,343.3 L492.8,337.0 L493.4,359.3 L494.0,355.9 L494.6,353.0 L495.2,364.6 L495.7,336.6 L496.3,357.9 L496.9,342.5 L497.5,356.0 L498.1,332.6 L498.7,338.0 L499.3,332.6 L499.9,347.8 L500.4,365.7 L501.0,358.0 L501.6,357.9 L502.2,358.0 L502.8,366.1 L503.4,347.0 L504.0,366.2 L504.6,349.6 L505.1,344.1 L505.7,364.8 L506.3,333.5 L506.9,353.9 L507.5,362.9 L508.1,349.1 L508.7,360.3 L509.3,358.4 L509.8,340.1 L510.4,346.4 L511.0,360.2 L511.6,363.7 L512.2,346.4 L512.8,366.9 L513.4,366.8 L514.0,351.1 L514.5,367.0 L515.1,366.7 L515.7,346.4 L516.3,362.0 L516.9,367.5 L517.5,364.2 L518.1,347.1 L518.7,354.1 L519.2,358.0 L519.8,353.3 L520.4,353.8 L521.0,346.7 L521.6,344.6 L522.2,352.1 L522.8,355.1 L523.4,359.0 L523.9,368.4 L524.5,347.1 L525.1,353.5 L525.7,366.5 L526.3,365.5 L526.9,348.0 L527.5,362.0 L528.1,347.6 L528.6,368.8 L529.2,352.0 L529.8,360.6 L530.4,337.3 L531.0,358.5 L531.6,351.2 L532.2,354.9 L532.8,353.1 L533.3,361.4 L533.9,356.7 L534.5,360.9 L535.1,359.7 L535.7,362.9 L536.3,370.6 L536.9,359.9 L537.4,360.3 L538.0,362.0 L538.6,360.5 L539.2,357.2 L539.8,353.2 L540.4,346.5 L541.0,343.6 L541.6,363.6 L542.1,369.3 L542.7,367.2 L543.3,367.0 L543.9,353.0 L544.5,348.7 L545.1,352.9 L545.7,362.0 L546.3,351.2 L546.8,350.7 L547.4,372.7 L548.0,357.0 L548.6,350.0 L549.2,361.0 L549.8,365.7 L550.4,359.9 L551.0,352.0 L551.5,347.9 L552.1,350.6 L552.7,366.9 L553.3,372.0 L553.9,350.2 L554.5,346.1 L555.1,369.6 L555.7,346.7 L556.2,342.1 L556.8,351.3 L557.4,360.8 L558.0,341.7 L558.6,370.2 L559.2,362.5 L559.8,357.7 L560.4,346.9 L560.9,355.4 L561.5,347.0 L562.1,362.7 L562.7,353.0 L563.3,369.9 L563.9,367.5 L564.5,355.5 L565.1,361.1 L565.6,358.3 L566.2,373.5 L566.8,367.1 L567.4,373.8 L568.0,369.6 L568.6,370.2 L569.2,358.6 L569.8,371.7 L570.3,359.4 L570.9,371.3 L571.5,368.6 L572.1,363.8 L572.7,355.6 L573.3,366.1 L573.9,366.7 L574.5,368.3 L575.0,353.4 L575.6,357.9 L576.2,365.4 L576.8,372.5 L577.4,357.6 L578.0,373.7 L578.6,375.7 L579.2,354.4 L579.7,369.7 L580.3,361.9 L580.9,355.7 L581.5,343.2 L582.1,361.2 L582.7,353.0 L583.3,369.4 L583.9,363.6 L584.4,361.1 L585.0,371.5 L585.6,358.5 L586.2,347.5 L588.0,347.5" stroke="#0000ff"/>
<path d="M116.9,102.2 L117.5,102.2 L118.1,208.7 L118.7,277.7 L119.2,321.7 L119.8,350.2 L120.4,366.7 L121.0,372.6 L121.6,377.6 L122.2,380.9 L122.8,386.7 L123.4,392.6 L123.9,394.0 L124.5,395.1 L125.1,396.7 L125.7,397.6 L126.3,397.4 L126.9,397.5 L127.5,403.0 L128.1,403.0 L128.6,405.1 L129.2,405.1 L129.8,404.8 L130.4,395.8 L131.0,386.6 L131.6,395.6 L132.2,399.0 L132.8,399.1 L133.3,397.1 L133.9,397.2 L134.5,403.7 L135.1,403.8 L135.7,402.9 L136.3,402.9 L136.9,400.2 L137.5,396.5 L138.0,395.5 L138.6,400.7 L139.2,399.9 L139.8,400.0 L140.4,400.4 L141.0,400.5 L141.6,402.5 L142.2,402.5 L142.7,400.6 L143.3,400.7 L143.9,403.3 L144.5,403.3 L145.1,400.7 L145.7,397.4 L146.3,399.9 L146.9,403.3 L147.4,405.1 L148.0,405.1 L148.6,400.9 L149.2,401.0 L149.8,404.9 L150.4,404.9 L151.0,403.1 L151.6,403.1 L152.1,401.9 L152.7,402.0 L153.3,402.7 L153.9,402.7 L154.5,403.2 L155.1,403.2 L155.7,400.6 L156.3,400.7 L156.8,403.6 L157.4,404.7 L158.0,403.7 L158.6,403.7 L159.2,402.5 L159.8,402.5 L160.4,401.1 L161.0,401.2 L161.5,404.8 L162.1,402.5 L162.7,397.5 L163.3,397.7 L163.9,402.5 L164.5,402.5 L165.1,403.3 L165.7,403.4 L166.2,404.2 L166.8,404.2 L167.4,402.2 L168.0,402.2 L168.6,402.0 L169.2,399.5 L169.8,400.3 L170.3,403.8 L170.9,404.4 L171.5,404.4 L172.1,404.0 L172.7,404.0 L173.3,404.6 L173.9,404.6 L174.5,404.4 L175.0,404.4 L175.6,405.0 L176.2,405.0 L176.8,403.1 L177.4,403.2 L178.0,404.5 L178.6,404.5 L179.2,403.0 L179.7,403.0 L180.3,403.4 L180.9,403.4 L181.5,404.4 L182.1,404.4 L182.7,405.1 L183.3,405.1 L183.9,405.3 L184.4,405.3 L185.0,405.0 L185.6,405.0 L186.2,403.6 L186.8,403.7 L187.4,404.4 L188.0,404.4 L188.6,403.8 L189.1,403.9 L189.7,405.2 L190.3,405.2 L190.9,403.9 L191.5,404.0 L192.1,403.3 L192.7,403.3 L193.3,405.3 L193.8,405.3 L194.4,405.2 L195.0,405.2 L195.6,403.8 L196.2,403.8 L196.8,404.9 L197.4,404.9 L198.0,405.0 L198.5,405.0 L199.1,403.9 L199.7,403.9 L200.3,403.9 L200.9,403.9 L201.5,403.6 L202.1,403.6 L202.7,405.1 L203.2,405.1 L203.8,404.6 L204.4,404.6 L205.0,405.3 L205.6,405.3 L206.2,404.7 L206.8,404.7 L207.4,404.1 L207.9,404.1 L208.5,405.3 L209.1,405.3 L209.7,405.3 L210.3,405.3 L210.9,405.3 L211.5,405.3 L212.1,405.3 L212.6,405.3 L213.2,405.3 L213.8,405.3 L214.4,405.3 L215.0,405.3 L215.6,405.3 L216.2,405.3 L216.8,405.3 L217.3,405.3 L217.9,405.3 L218.5,405.3 L219.1,405.3 L219.7,405.3 L220.3,405.3 L220.9,405.3 L221.4,405.3 L222.0,405.3 L222.6,405.3 L223.2,405.3 L223.8,405.3 L224.4,405.3 L225.0,405.3 L225.6,405.3 L226.1,405.3 L226.7,405.3 L227.3,405.3 L227.9,405.3 L228.5,405.3 L229.1,405.3 L229.7,405.3 L230.3,405.3 L230.8,405.3 L231.4,405.3 L232.0,405.3 L232.6,405.3 L233.2,405.3 L233.8,405.3 L234.4,405.3 L235.0,405.3 L235.5,405.3 L236.1,405.3 L236.7,405.3 L237.3,405.3 L237.9,405.3 L238.5,405.3 L239.1,405.3 L239.7,405.3 L240.2,405.3 L240.8,405.3 L241.4,405.3 L242.0,405.3 L242.6,405.3 L243.2,405.3 L243.8,404.8 L244.4,403.3 L244.9,402.5 L245.5,404.1 L246.1,405.3 L246.7,405.3 L247.3,405.3 L247.9,405.3 L248.5,405.3 L249.1,405.3 L249.6,405.3 L250.2,405.3 L250.8,405.3 L251.4,405.3 L252.0,405.3 L252.6,405.3 L253.2,405.3 L253.8,405.3 L254.3,405.3 L254.9,405.3 L255.5,405.3 L256.1,405.3 L256.7,405.3 L257.3,405.3 L257.9,405.3 L258.5,405.3 L259.0,405.3 L259.6,405.3 L260.2,405.3 L260.8,405.3 L261.4,405.3 L262.0,405.3 L262.6,405.3 L263.2,405.3 L263.7,405.3 L264.3,405.3 L264.9,405.3 L265.5,405.3 L266.1,405.3 L266.7,405.3 L267.3,405.3 L267.9,405.3 L268.4,405.3 L269.0,405.3 L269.6,405.3 L270.2,405.3 L270.8,405.3 L271.4,404.4 L272.0,403.6 L272.6,404.3 L273.1,405.2 L273.7,405.3 L274.3,405.3 L274.9,405.3 L275.5,405.3 L276.1,405.3 L276.7,405.3 L277.2,405.3 L277.8,405.3 L278.4,405.3 L279.0,405.3 L279.6,405.3 L280.2,405.3 L280.8,405.3 L281.4,405.3 L281.9,405.3 L282.5,405.3 L283.1,405.3 L283.7,405.3 L284.3,405.3 L284.9,405.3 L285.5,405.3 L286.1,405.3 L286.6,405.3 L287.2,405.3 L287.8,405.3 L288.4,405.3 L289.0,405.3 L289.6,405.3 L290.2,405.3 L290.8,405.3 L291.3,405.3 L291.9,405.3 L292.5,404.9 L293.1,404.0 L293.7,403.6 L294.3,404.6 L294.9,405.3 L295.5,405.3 L296.0,404.9 L296.6,404.1 L297.2,403.8 L297.8,404.7 L298.4,405.3 L299.0,405.3 L299.6,405.3 L300.2,405.3 L300.7,405.3 L301.3,405.3 L301.9,405.3 L302.5,405.3 L303.1,405.3 L303.7,405.3 L304.3,405.3 L304.9,405.3 L305.4,405.3 L306.0,405.3 L306.6,405.3 L307.2,405.3 L307.8,405.3 L308.4,405.3 L309.0,405.3 L309.6,405.3 L310.1,405.3 L310.7,405.3 L311.3,405.3 L311.9,405.3 L312.5,405.3 L313.1,405.3 L313.7,405.3 L314.3,405.3 L314.8,405.3 L315.4,405.3 L316.0,405.3 L316.6,405.3 L317.2,405.3 L317.8,405.3 L318.4,405.3 L319.0,405.3 L319.5,405.3 L320.1,405.3 L320.7,405.3 L321.3,405.3 L321.9,405.3 L322.5,405.3 L323.1,405.3 L323.7,405.3 L324.2,405.3 L324.8,405.3 L325.4,405.3 L326.0,405.3 L326.6,405.3 L327.2,405.3 L327.8,405.3 L328.3,405.3 L328.9,405.3 L329.5,405.3 L330.1,405.3 L330.7,405.3 L331.3,405.3 L331.9,405.3 L332.5,405.3 L333.0,405.3 L333.6,405.3 L334.2,405.3 L334.8,405.3 L335.4,405.3 L336.0,405.3 L336.6,405.3 L337.2,405.3 L337.7,405.3 L338.3,405.3 L338.9,405.3 L339.5,405.3 L340.1,405.3 L340.7,405.3 L341.3,405.3 L341.9,405.3 L342.4,405.3 L343.0,405.3 L343.6,405.3 L344.2,405.3 L344.8,405.3 L345.4,405.3 L346.0,405.3 L346.6,405.3 L347.1,405.3 L347.7,405.3 L348.3,405.3 L348.9,405.3 L349.5,405.3 L350.1,405.3 L350.7,405.3 L351.3,405.3 L351.8,405.3 L352.4,405.3 L353.0,405.3 L353.6,405.3 L354.2,405.3 L354.8,405.3 L355.4,405.3 L356.0,405.3 L356.5,405.3 L357.1,405.3 L357.7,405.3 L358.3,405.3 L358.9,405.3 L359.5,405.3 L360.1,405.3 L360.7,405.3 L361.2,405.3 L361.8,405.3 L362.4,405.3 L363.0,405.3 L363.6,405.3 L364.2,405.3 L364.8,405.3 L365.4,405.3 L365.9,405.3 L366.5,405.3 L367.1,405.3 L367.7,405.3 L368.3,405.3 L368.9,405.3 L369.5,405.3 L370.1,405.3 L370.6,405.3 L371.2,405.3 L371.8,405.3 L372.4,405.3 L373.0,405.3 L373.6,405.3 L374.2,405.3 L374.8,405.3 L375.3,405.3 L375.9,405.3 L376.5,405.3 L377.1,405.3 L377.7,405.3 L378.3,405.3 L378.9,405.3 L379.4,405.3 L380.0,405.3 L380.6,405.3 L381.2,405.3 L381.8,405.3 L382.4,405.3 L383.0,405.3 L383.6,405.3 L384.1,405.3 L384.7,405.3 L385.3,405.3 L385.9,405.3 L386.5,405.3 L387.1,405.3 L387.7,405.3 L388.3,405.3 L388.8,405.3 L389.4,405.3 L390.0,405.3 L390.6,405.3 L391.2,405.3 L391.8,405.3 L392.4,405.3 L393.0,405.3 L393.5,405.3 L394.1,405.3 L394.7,405.3 L395.3,405.3 L395.9,405.3 L396.5,405.3 L397.1,405.3 L397.7,405.3 L398.2,405.3 L398.8,405.3 L399.4,405.3 L400.0,405.3 L400.6,405.3 L401.2,405.3 L401.8,405.3 L402.4,405.3 L402.9,405.3 L403.5,405.3 L404.1,405.3 L404.7,405.3 L405.3,405.3 L405.9,405.3 L406.5,405.3 L407.1,405.3 L407.6,405.3 L408.2,405.3 L408.8,405.3 L409.4,405.3 L410.0,405.3 L410.6,405.3 L411.2,405.3 L411.8,405.3 L412.3,405.3 L412.9,405.3 L413.5,405.3 L414.1,405.3 L414.7,405.3 L415.3,405.3 L415.9,405.3 L416.5,405.3 L417.0,405.3 L417.6,405.3 L418.2,405.3 L418.8,405.3 L419.4,405.3 L420.0,405.3 L420.6,405.3 L421.2,405.3 L421.7,405.3 L422.3,405.3 L422.9,405.3 L423.5,405.3 L424.1,405.3 L424.7,405.3 L425.3,405.3 L425.9,405.3 L426.4,405.3 L427.0,405.3 L427.6,405.3 L428.2,405.3 L428.8,405.3 L429.4,405.3 L430.0,405.3 L430.5,405.3 L431.1,405.3 L431.7,405.3 L432.3,405.3 L432.9,405.3 L433.5,405.3 L434.1,405.3 L434.7,405.3 L435.2,405.3 L435.8,405.3 L436.4,405.3 L437.0,405.3 L437.6,405.3 L438.2,405.3 L438.8,405.3 L439.4,405.3 L439.9,405.3 L440.5,405.3 L441.1,405.3 L441.7,405.3 L442.3,405.3 L442.9,405.3 L443.5,405.3 L444.1,405.3 L444.6,405.3 L445.2,405.3 L445.8,405.3 L446.4,405.3 L447.0,405.3 L447.6,405.3 L448.2,405.3 L448.8,405.3 L449.3,405.3 L449.9,405.3 L450.5,405.3 L451.1,405.3 L451.7,405.3 L452.3,405.3 L452.9,405.3 L453.5,405.3 L454.0,405.3 L454.6,405.3 L455.2,405.3 L455.8,405.3 L456.4,405.3 L457.0,405.3 L457.6,405.3 L458.2,405.3 L458.7,405.3 L459.3,405.3 L459.9,405.3 L460.5,405.3 L461.1,405.3 L461.7,405.3 L462.3,405.3 L462.9,405.3 L463.4,405.3 L464.0,405.3 L464.6,405.3 L465.2,405.3 L465.8,405.3 L466.4,405.3 L467.0,405.3 L467.6,405.3 L468.1,405.3 L468.7,405.3 L469.3,405.3 L469.9,405.3 L470.5,405.3 L471.1,405.3 L471.7,405.3 L472.3,405.3 L472.8,405.3 L473.4,405.3 L474.0,405.3 L474.6,405.3 L475.2,405.3 L475.8,405.3 L476.4,405.3 L477.0,405.3 L477.5,405.3 L478.1,405.3 L478.7,405.3 L479.3,405.3 L479.9,405.3 L480.5,405.3 L481.1,405.3 L481.7,405.3 L482.2,405.3 L482.8,405.3 L483.4,405.3 L484.0,405.3 L484.6,405.3 L485.2,405.3 L485.8,405.3 L486.3,405.3 L486.9,405.3 L487.5,405.3 L488.1,405.3 L488.7,405.3 L489.3,405.3 L489.9,405.3 L490.5,405.3 L491.0,405.3 L491.6,405.3 L492.2,405.3 L492.8,405.3 L493.4,405.3 L494.0,405.3 L494.6,405.3 L495.2,405.3 L495.7,405.3 L496.3,405.3 L496.9,405.3 L497.5,405.3 L498.1,405.3 L498.7,405.3 L499.3,405.3 L499.9,405.3 L500.4,405.3 L501.0,405.3 L501.6,405.3 L502.2,405.3 L502.8,405.3 L503.4,405.3 L504.0,405.3 L504.6,405.3 L505.1,405.3 L505.7,405.3 L506.3,405.3 L506.9,405.3 L507.5,405.3 L508.1,405.3 L508.7,405.3 L509.3,405.3 L509.8,405.3 L510.4,405.3 L511.0,405.3 L511.6,405.3 L512.2,405.3 L512.8,405.3 L513.4,405.3 L514.0,405.3 L514.5,405.3 L515.1,405.3 L515.7,405.3 L516.3,405.3 L516.9,405.3 L517.5,405.3 L518.1,405.3 L518.7,405.3 L519.2,405.3 L519.8,405.3 L520.4,405.3 L521.0,405.3 L521.6,405.3 L522.2,405.3 L522.8,405.3 L523.4,405.3 L523.9,405.3 L524.5,405.3 L525.1,405.3 L525.7,405.3 L526.3,405.3 L526.9,405.3 L527.5,405.3 L528.1,405.3 L528.6,405.3 L529.2,405.3 L529.8,405.3 L530.4,405.3 L531.0,405.3 L531.6,405.3 L532.2,405.3 L532.8,405.3 L533.3,405.3 L533.9,405.3 L534.5,405.3 L535.1,405.3 L535.7,405.3 L536.3,405.3 L536.9,405.3 L537.4,405.3 L538.0,405.3 L538.6,405.3 L539.2,405.3 L539.8,405.3 L540.4,405.3 L541.0,405.3 L541.6,405.3 L542.1,405.3 L542.7,405.3 L543.3,405.3 L543.9,405.3 L544.5,405.3 L545.1,405.3 L545.7,405.3 L546.3,405.3 L546.8,405.3 L547.4,405.3 L548.0,405.3 L548.6,405.3 L549.2,405.3 L549.8,405.3 L550.4,405.3 L551.0,405.3 L551.5,405.3 L552.1,405.3 L552.7,405.3 L553.3,405.3 L553.9,405.3 L554.5,405.3 L555.1,405.3 L555.7,405.3 L556.2,405.3 L556.8,405.3 L557.4,405.3 L558.0,405.3 L558.6,405.3 L559.2,405.3 L559.8,405.3 L560.4,405.3 L560.9,405.3 L561.5,405.3 L562.1,405.3 L562.7,405.3 L563.3,405.3 L563.9,405.3 L564.5,405.3 L565.1,405.3 L565.6,405.3 L566.2,405.3 L566.8,405.3 L567.4,405.3 L568.0,405.3 L568.6,405.3 L569.2,405.3 L569.8,405.3 L570.3,405.3 L570.9,405.3 L571.5,405.3 L572.1,405.3 L572.7,405.3 L573.3,405.3 L573.9,405.3 L574.5,405.3 L575.0,405.3 L575.6,405.3 L576.2,405.3 L576.8,405.3 L577.4,405.3 L578.0,405.3 L578.6,405.3 L579.2,405.3 L579.7,405.3 L580.3,405.3 L580.9,405.3 L581.5,405.3 L582.1,405.3 L582.7,405.3 L583.3,405.3 L583.9,405.3 L584.4,405.3 L585.0,405.3 L585.6,405.3 L586.2,405.3 L588.0,405.3" stroke="#ffa500"/>
<path d="M116.9,93.5 L117.5,102.2 L118.1,102.3 L118.7,102.4 L119.2,101.9 L119.8,102.1 L120.4,101.9 L121.0,102.6 L121.6,102.6 L122.2,102.8 L122.8,102.3 L123.4,101.8 L123.9,103.0 L124.5,102.0 L125.1,101.6 L125.7,101.9 L126.3,102.5 L126.9,102.9 L127.5,103.3 L128.1,102.8 L128.6,102.2 L129.2,103.3 L129.8,101.6 L130.4,102.4 L131.0,102.5 L131.6,103.5 L132.2,102.9 L132.8,103.6 L133.3,103.2 L133.9,103.1 L134.5,103.6 L135.1,102.7 L135.7,102.9 L136.3,104.1 L136.9,103.7 L137.5,103.4 L138.0,104.0 L138.6,103.0 L139.2,104.4 L139.8,104.1 L140.4,104.4 L141.0,103.8 L141.6,104.4 L142.2,105.3 L142.7,105.7 L143.3,104.3 L143.9,105.0 L144.5,105.3 L145.1,105.8 L145.7,106.0 L146.3,106.2 L146.9,107.0 L147.4,105.9 L148.0,105.6 L148.6,106.7 L149.2,109.6 L149.8,107.8 L150.4,110.5 L151.0,107.6 L151.6,111.6 L152.1,110.6 L152.7,110.7 L153.3,109.7 L153.9,111.2 L154.5,112.6 L155.1,113.6 L155.7,112.5 L156.3,116.1 L156.8,115.4 L157.4,116.4 L158.0,117.8 L158.6,119.6 L159.2,116.7 L159.8,117.7 L160.4,118.3 L161.0,123.8 L161.5,122.2 L162.1,124.9 L162.7,123.1 L163.3,128.5 L163.9,125.1 L164.5,129.5 L165.1,126.2 L165.7,133.0 L166.2,131.3 L166.8,133.9 L167.4,135.3 L168.0,134.3 L168.6,137.6 L169.2,136.2 L169.8,143.0 L170.3,142.4 L170.9,142.8 L171.5,145.2 L172.1,146.9 L172.7,146.7 L173.3,149.8 L173.9,153.7 L174.5,154.5 L175.0,159.4 L175.6,159.1 L176.2,161.3 L176.8,157.4 L177.4,161.9 L178.0,161.2 L178.6,162.7 L179.2,164.9 L179.7,163.0 L180.3,168.7 L180.9,170.1 L181.5,171.3 L182.1,178.7 L182.7,175.4 L183.3,181.7 L183.9,184.2 L184.4,182.5 L185.0,175.0 L185.6,189.7 L186.2,189.6 L186.8,190.3 L187.4,187.0 L188.0,188.2 L188.6,188.4 L189.1,187.8 L189.7,196.4 L190.3,197.0 L190.9,202.0 L191.5,198.4 L192.1,203.3 L192.7,201.7 L193.3,201.4 L193.8,209.1 L194.4,204.8 L195.0,208.8 L195.6,206.9 L196.2,213.0 L196.8,208.5 L197.4,208.5 L198.0,216.9 L198.5,216.6 L199.1,220.0 L199.7,214.1 L200.3,224.6 L200.9,216.4 L201.5,229.8 L202.1,231.1 L202.7,230.7 L203.2,225.4 L203.8,231.4 L204.4,237.6 L205.0,221.2 L205.6,234.8 L206.2,226.6 L206.8,227.5 L207.4,237.2 L207.9,235.7 L208.5,237.0 L209.1,233.3 L209.7,236.0 L210.3,245.9 L210.9,238.7 L211.5,249.2 L212.1,237.3 L212.6,244.1 L213.2,246.7 L213.8,248.5 L214.4,251.5 L215.0,251.7 L215.6,253.8 L216.2,241.7 L216.8,243.0 L217.3,244.8 L217.9,246.9 L218.5,257.3 L219.1,255.1 L219.7,259.2 L220.3,258.2 L220.9,258.5 L221.4,252.4 L222.0,245.3 L222.6,265.7 L223.2,266.4 L223.8,271.0 L224.4,261.3 L225.0,262.8 L225.6,264.8 L226.1,263.3 L226.7,250.5 L227.3,270.5 L227.9,270.2 L228.5,262.0 L229.1,274.4 L229.7,260.6 L230.3,264.2 L230.8,268.9 L231.4,279.0 L232.0,266.8 L232.6,280.1 L233.2,275.2 L233.8,278.4 L234.4,270.0 L235.0,285.6 L235.5,279.1 L236.1,266.8 L236.7,283.7 L237.3,276.6 L237.9,285.5 L238.5,283.0 L239.1,289.6 L239.7,288.8 L240.2,283.8 L240.8,286.6 L241.4,271.0 L242.0,288.3 L242.6,287.4 L243.2,292.7 L243.8,288.9 L244.4,286.2 L244.9,290.4 L245.5,286.8 L246.1,284.6 L246.7,296.6 L247.3,285.8 L247.9,277.2 L248.5,270.8 L249.1,284.4 L249.6,286.9 L250.2,289.8 L250.8,273.6 L251.4,290.7 L252.0,300.8 L252.6,296.5 L253.2,295.9 L253.8,292.0 L254.3,273.7 L254.9,283.1 L255.5,299.9 L256.1,299.0 L256.7,291.6 L257.3,294.8 L257.9,287.2 L258.5,284.3 L259.0,292.7 L259.6,282.1 L260.2,298.2 L260.8,294.5 L261.4,308.1 L262.0,290.6 L262.6,307.5 L263.2,287.1 L263.7,293.9 L264.3,310.3 L264.9,303.0 L265.5,292.3 L266.1,311.6 L266.7,297.6 L267.3,281.6 L267.9,308.6 L268.4,310.7 L269.0,310.5 L269.6,313.9 L270.2,312.8 L270.8,298.9 L271.4,308.5 L272.0,307.3 L272.6,298.8 L273.1,306.7 L273.7,315.7 L274.3,307.9 L274.9,307.0 L275.5,309.6 L276.1,312.2 L276.7,317.7 L277.2,320.4 L277.8,306.6 L278.4,306.4 L279.0,308.1 L279.6,291.0 L280.2,323.7 L280.8,309.9 L281.4,322.8 L281.9,315.8 L282.5,297.5 L283.1,317.1 L283.7,295.5 L284.3,317.5 L284.9,295.2 L285.5,325.8 L286.1,313.0 L286.6,325.0 L287.2,318.7 L287.8,313.7 L288.4,318.0 L289.0,302.0 L289.6,314.0 L290.2,308.9 L290.8,330.4 L291.3,310.3 L291.9,313.5 L292.5,320.3 L293.1,328.4 L293.7,333.8 L294.3,313.6 L294.9,315.1 L295.5,335.2 L296.0,324.3 L296.6,332.3 L297.2,319.8 L297.8,318.1 L298.4,333.5 L299.0,316.5 L299.6,318.3 L300.2,321.2 L300.7,310.1 L301.3,316.6 L301.9,320.0 L302.5,317.3 L303.1,326.8 L303.7,331.2 L304.3,326.9 L304.9,315.7 L305.4,329.3 L306.0,332.7 L306.6,319.2 L307.2,327.4 L307.8,340.1 L308.4,336.7 L309.0,327.4 L309.6,322.6 L310.1,320.3 L310.7,317.6 L311.3,322.7 L311.9,329.4 L312.5,329.9 L313.1,321.7 L313.7,315.9 L314.3,329.0 L314.8,338.7 L315.4,341.7 L316.0,342.9 L316.6,331.1 L317.2,340.6 L317.8,310.1 L318.4,321.9 L319.0,321.3 L319.5,335.1 L320.1,337.3 L320.7,336.7 L321.3,332.7 L321.9,335.7 L322.5,337.7 L323.1,339.0 L323.7,324.9 L324.2,311.4 L324.8,330.2 L325.4,334.3 L326.0,332.2 L326.6,324.3 L327.2,342.7 L327.8,336.1 L328.3,345.3 L328.9,324.4 L329.5,326.0 L330.1,327.0 L330.7,346.1 L331.3,337.1 L331.9,343.5 L332.5,326.7 L333.0,343.8 L333.6,327.1 L334.2,348.4 L334.8,338.6 L335.4,350.1 L336.0,321.6 L336.6,341.5 L337.2,330.7 L337.7,342.7 L338.3,317.1 L338.9,342.6 L339.5,344.8 L340.1,349.9 L340.7,345.3 L341.3,344.2 L341.9,341.4 L342.4,339.8 L343.0,346.5 L343.6,349.5 L344.2,347.2 L344.8,331.6 L345.4,335.7 L346.0,344.9 L346.6,343.9 L347.1,352.8 L347.7,354.7 L348.3,352.6 L348.9,345.6 L349.5,348.6 L350.1,352.0 L350.7,334.6 L351.3,339.0 L351.8,332.0 L352.4,347.1 L353.0,354.6 L353.6,332.1 L354.2,335.3 L354.8,337.3 L355.4,327.9 L356.0,341.9 L356.5,328.5 L357.1,342.3 L357.7,339.6 L358.3,339.7 L358.9,347.6 L359.5,350.3 L360.1,340.2 L360.7,347.7 L361.2,335.2 L361.8,358.3 L362.4,337.3 L363.0,348.5 L363.6,359.3 L364.2,343.1 L364.8,342.5 L365.4,353.5 L365.9,347.1 L366.5,342.5 L367.1,350.0 L367.7,356.3 L368.3,352.6 L368.9,342.6 L369.5,352.9 L370.1,359.3 L370.6,342.1 L371.2,353.0 L371.8,349.6 L372.4,335.4 L373.0,341.3 L373.6,343.8 L374.2,346.6 L374.8,358.4 L375.3,347.8 L375.9,333.7 L376.5,356.5 L377.1,342.6 L377.7,347.0 L378.3,352.6 L378.9,348.0 L379.4,353.9 L380.0,354.1 L380.6,343.6 L381.2,343.6 L381.8,358.7 L382.4,350.4 L383.0,344.3 L383.6,342.8 L384.1,350.8 L384.7,360.6 L385.3,346.2 L385.9,364.3 L386.5,342.2 L387.1,355.4 L387.7,357.9 L388.3,354.3 L388.8,338.8 L389.4,349.6 L390.0,355.1 L390.6,362.9 L391.2,335.1 L391.8,350.8 L392.4,352.2 L393.0,365.7 L393.5,349.4 L394.1,347.4 L394.7,363.7 L395.3,346.7 L395.9,362.7 L396.5,358.0 L397.1,335.9 L397.7,351.5 L398.2,363.5 L398.8,346.6 L399.4,362.1 L400.0,352.2 L400.6,355.3 L401.2,339.0 L401.8,359.4 L402.4,355.6 L402.9,352.1 L403.5,362.4 L404.1,356.2 L404.7,351.5 L405.3,354.8 L405.9,363.8 L406.5,347.8 L407.1,353.7 L407.6,362.7 L408.2,360.3 L408.8,356.7 L409.4,350.6 L410.0,343.5 L410.6,356.2 L411.2,362.6 L411.8,353.6 L412.3,367.5 L412.9,361.5 L413.5,358.1 L414.1,364.7 L414.7,354.9 L415.3,368.0 L415.9,356.7 L416.5,348.9 L417.0,370.2 L417.6,359.9 L418.2,368.9 L418.8,346.2 L419.4,341.1 L420.0,360.1 L420.6,369.2 L421.2,351.9 L421.7,361.6 L422.3,366.5 L422.9,358.6 L423.5,344.4 L424.1,370.6 L424.7,362.1 L425.3,365.5 L425.9,365.3 L426.4,370.2 L427.0,358.3 L427.6,362.9 L428.2,355.8 L428.8,358.4 L429.4,369.1 L430.0,372.2 L430.5,358.6 L431.1,368.1 L431.7,346.4 L432.3,366.8 L432.9,359.9 L433.5,359.7 L434.1,356.7 L434.7,363.1 L435.2,353.6 L435.8,371.0 L436.4,357.9 L437.0,366.3 L437.6,352.9 L438.2,360.4 L438.8,373.3 L439.4,371.4 L439.9,369.0 L440.5,355.9 L441.1,363.3 L441.7,367.4 L442.3,345.1 L442.9,368.5 L443.5,371.1 L444.1,374.0 L444.6,364.5 L445.2,354.5 L445.8,358.4 L446.4,371.1 L447.0,357.2 L447.6,367.4 L448.2,368.1 L448.8,363.7 L449.3,371.0 L449.9,357.0 L450.5,367.6 L451.1,351.6 L451.7,372.8 L452.3,350.4 L452.9,358.7 L453.5,362.1 L454.0,365.9 L454.6,356.6 L455.2,373.2 L455.8,368.8 L456.4,361.7 L457.0,368.0 L457.6,376.0 L458.2,368.0 L458.7,363.9 L459.3,369.8 L459.9,371.4 L460.5,370.0 L461.1,360.0 L461.7,356.1 L462.3,362.4 L462.9,364.9 L463.4,373.3 L464.0,357.7 L464.6,373.6 L465.2,357.2 L465.8,354.6 L466.4,364.6 L467.0,375.7 L467.6,348.0 L468.1,357.1 L468.7,360.4 L469.3,365.7 L469.9,362.1 L470.5,376.5 L471.1,369.4 L471.7,363.4 L472.3,369.2 L472.8,370.8 L473.4,374.7 L474.0,375.5 L474.6,365.6 L475.2,349.3 L475.8,377.4 L476.4,368.2 L477.0,372.4 L477.5,367.3 L478.1,365.1 L478.7,353.7 L479.3,359.1 L479.9,364.1 L480.5,364.8 L481.1,350.5 L481.7,371.6 L482.2,348.9 L482.8,373.8 L483.4,369.7 L484.0,368.4 L484.6,370.6 L485.2,372.6 L485.8,375.7 L486.3,363.1 L486.9,350.4 L487.5,357.0 L488.1,358.3 L488.7,375.0 L489.3,362.9 L489.9,357.4 L490.5,365.7 L491.0,365.7 L491.6,376.8 L492.2,355.3 L492.8,359.5 L493.4,378.6 L494.0,362.9 L494.6,372.8 L495.2,378.7 L495.7,376.6 L496.3,369.1 L496.9,379.0 L497.5,373.4 L498.1,364.1 L498.7,379.5 L499.3,371.0 L499.9,354.6 L500.4,368.2 L501.0,363.1 L501.6,371.3 L502.2,371.2 L502.8,362.5 L503.4,368.0 L504.0,364.8 L504.6,378.5 L505.1,363.3 L505.7,372.3 L506.3,373.1 L506.9,372.3 L507.5,367.3 L508.1,364.6 L508.7,359.5 L509.3,363.8 L509.8,377.1 L510.4,365.5 L511.0,371.1 L511.6,366.0 L512.2,360.9 L512.8,368.7 L513.4,381.2 L514.0,368.4 L514.5,366.9 L515.1,372.2 L515.7,367.5 L516.3,364.9 L516.9,368.1 L517.5,379.4 L518.1,363.0 L518.7,362.7 L519.2,357.9 L519.8,364.0 L520.4,362.8 L521.0,365.3 L521.6,379.3 L522.2,380.6 L522.8,380.5 L523.4,367.0 L523.9,380.0 L524.5,361.6 L525.1,370.8 L525.7,372.4 L526.3,358.9 L526.9,381.8 L527.5,376.9 L528.1,370.9 L528.6,376.5 L529.2,377.2 L529.8,363.0 L530.4,367.6 L531.0,358.5 L531.6,352.2 L532.2,379.4 L532.8,367.3 L533.3,382.5 L533.9,362.4 L534.5,368.2 L535.1,353.7 L535.7,359.5 L536.3,380.9 L536.9,378.3 L537.4,361.9 L538.0,366.5 L538.6,378.2 L539.2,357.4 L539.8,353.8 L540.4,374.9 L541.0,376.6 L541.6,377.0 L542.1,374.1 L542.7,365.5 L543.3,379.3 L543.9,373.9 L544.5,377.4 L545.1,362.2 L545.7,365.6 L546.3,374.1 L546.8,379.3 L547.4,369.7 L548.0,378.3 L548.6,361.9 L549.2,362.9 L549.8,377.1 L550.4,383.7 L551.0,368.9 L551.5,369.4 L552.1,369.6 L552.7,374.9 L553.3,370.8 L553.9,370.2 L554.5,379.1 L555.1,362.3 L555.7,381.5 L556.2,378.7 L556.8,383.5 L557.4,381.0 L558.0,380.0 L558.6,369.0 L559.2,360.2 L559.8,375.8 L560.4,370.4 L560.9,380.5 L561.5,373.5 L562.1,384.4 L562.7,378.7 L563.3,382.2 L563.9,382.8 L564.5,375.8 L565.1,382.6 L565.6,376.2 L566.2,374.3 L566.8,385.0 L567.4,378.5 L568.0,358.6 L568.6,360.7 L569.2,377.1 L569.8,363.4 L570.3,378.3 L570.9,377.3 L571.5,379.5 L572.1,385.0 L572.7,355.4 L573.3,385.5 L573.9,381.0 L574.5,385.2 L575.0,373.3 L575.6,369.2 L576.2,375.9 L576.8,383.4 L577.4,382.8 L578.0,378.7 L578.6,372.8 L579.2,370.1 L579.7,364.6 L580.3,359.5 L580.9,375.1 L581.5,385.6 L582.1,376.5 L582.7,376.7 L583.3,374.2 L583.9,361.3 L584.4,384.5 L585.0,380.5 L585.6,366.5 L586.2,356.5 L588.0,356.5" stroke="#800080"/>
<path d="M116.9,78.0 L117.5,94.4 L118.1,87.4 L118.7,93.4 L119.2,98.7 L119.8,89.8 L120.4,89.2 L121.0,80.7 L121.6,84.8 L122.2,89.5 L122.8,93.1 L123.4,95.6 L123.9,87.5 L124.5,81.6 L125.1,86.0 L125.7,98.0 L126.3,84.9 L126.9,89.6 L127.5,98.6 L128.1,82.0 L128.6,92.8 L129.2,99.2 L129.8,86.3 L130.4,92.2 L131.0,98.7 L131.6,85.2 L132.2,92.2 L132.8,96.2 L133.3,95.0 L133.9,91.7 L134.5,87.5 L135.1,92.4 L135.7,90.6 L136.3,92.4 L136.9,90.8 L137.5,98.3 L138.0,97.3 L138.6,90.4 L139.2,94.4 L139.8,90.1 L140.4,92.9 L141.0,91.6 L141.6,96.1 L142.2,92.1 L142.7,93.5 L143.3,97.2 L143.9,93.1 L144.5,99.9 L145.1,90.3 L145.7,97.8 L146.3,93.8 L146.9,93.9 L147.4,96.7 L148.0,95.4 L148.6,94.2 L149.2,89.4 L149.8,90.5 L150.4,97.9 L151.0,95.8 L151.6,97.9 L152.1,101.0 L152.7,97.9 L153.3,90.7 L153.9,93.7 L154.5,97.0 L155.1,93.1 L155.7,101.3 L156.3,101.1 L156.8,100.1 L157.4,96.0 L158.0,100.1 L158.6,92.5 L159.2,94.5 L159.8,96.2 L160.4,99.2 L161.0,96.6 L161.5,93.1 L162.1,95.3 L162.7,95.2 L163.3,95.1 L163.9,93.8 L164.5,96.4 L165.1,96.8 L165.7,100.0 L166.2,100.3 L166.8,97.7 L167.4,97.2 L168.0,100.2 L168.6,101.3 L169.2,99.4 L169.8,100.6 L170.3,101.9 L170.9,93.9 L171.5,101.4 L172.1,96.2 L172.7,98.0 L173.3,100.9 L173.9,100.2 L174.5,95.4 L175.0,99.8 L175.6,95.0 L176.2,97.5 L176.8,101.3 L177.4,98.2 L178.0,99.6 L178.6,100.7 L179.2,101.5 L179.7,101.1 L180.3,95.3 L180.9,98.6 L181.5,99.0 L182.1,96.0 L182.7,99.7 L183.3,100.2 L183.9,101.9 L184.4,102.7 L185.0,97.1 L185.6,97.9 L186.2,100.9 L186.8,97.4 L187.4,98.1 L188.0,100.5 L188.6,97.9 L189.1,101.9 L189.7,102.4 L190.3,97.3 L190.9,100.5 L191.5,102.2 L192.1,103.3 L192.7,99.1 L193.3,98.5 L193.8,102.8 L194.4,103.0 L195.0,98.9 L195.6,100.4 L196.2,102.0 L196.8,102.7 L197.4,99.1 L198.0,101.8 L198.5,102.6 L199.1,101.3 L199.7,99.4 L200.3,98.8 L200.9,100.1 L201.5,102.8 L202.1,99.1 L202.7,99.0 L203.2,100.8 L203.8,99.5 L204.4,99.9 L205.0,99.4 L205.6,101.7 L206.2,102.5 L206.8,101.3 L207.4,100.0 L207.9,100.9 L208.5,102.1 L209.1,103.6 L209.7,103.9 L210.3,100.6 L210.9,99.6 L211.5,103.2 L212.1,103.6 L212.6,101.6 L213.2,103.0 L213.8,103.4 L214.4,102.3 L215.0,103.5 L215.6,99.9 L216.2,101.0 L216.8,101.0 L217.3,100.4 L217.9,103.7 L218.5,100.1 L219.1,102.7 L219.7,100.3 L220.3,101.5 L220.9,101.8 L221.4,100.8 L222.0,102.2 L222.6,102.3 L223.2,101.4 L223.8,103.1 L224.4,100.9 L225.0,101.0 L225.6,101.7 L226.1,101.8 L226.7,101.2 L227.3,103.9 L227.9,103.6 L228.5,100.9 L229.1,101.9 L229.7,101.4 L230.3,102.2 L230.8,101.6 L231.4,102.4 L232.0,104.0 L232.6,102.0 L233.2,103.0 L233.8,102.8 L234.4,103.4 L235.0,101.0 L235.5,103.4 L236.1,104.1 L236.7,102.9 L237.3,101.9 L237.9,103.2 L238.5,103.4 L239.1,103.2 L239.7,101.5 L240.2,104.3 L240.8,104.2 L241.4,102.4 L242.0,103.0 L242.6,101.2 L243.2,104.4 L243.8,103.8 L244.4,103.2 L244.9,103.6 L245.5,101.8 L246.1,102.2 L246.7,102.0 L247.3,103.2 L247.9,101.6 L248.5,104.1 L249.1,102.8 L249.6,102.8 L250.2,101.7 L250.8,103.5 L251.4,103.9 L252.0,103.4 L252.6,102.2 L253.2,103.9 L253.8,102.0 L254.3,104.0 L254.9,103.3 L255.5,102.5 L256.1,103.1 L256.7,103.5 L257.3,102.4 L257.9,104.1 L258.5,102.9 L259.0,104.3 L259.6,104.1 L260.2,102.1 L260.8,103.6 L261.4,102.7 L262.0,103.9 L262.6,103.4 L263.2,103.2 L263.7,104.3 L264.3,102.2 L264.9,103.5 L265.5,102.9 L266.1,102.1 L266.7,104.0 L267.3,103.5 L267.9,104.4 L268.4,103.6 L269.0,103.0 L269.6,104.6 L270.2,102.4 L270.8,102.3 L271.4,104.0 L272.0,103.1 L272.6,103.1 L273.1,104.4 L273.7,103.0 L274.3,104.5 L274.9,103.9 L275.5,103.1 L276.1,102.4 L276.7,102.9 L277.2,104.7 L277.8,103.3 L278.4,102.7 L279.0,103.0 L279.6,104.6 L280.2,102.7 L280.8,104.3 L281.4,102.7 L281.9,104.8 L282.5,103.7 L283.1,102.5 L283.7,104.7 L284.3,103.3 L284.9,104.2 L285.5,103.7 L286.1,102.6 L286.6,102.7 L287.2,102.8 L287.8,102.8 L288.4,102.6 L289.0,102.6 L289.6,104.9 L290.2,102.7 L290.8,103.8 L291.3,102.8 L291.9,103.0 L292.5,104.4 L293.1,104.9 L293.7,103.7 L294.3,102.6 L294.9,105.1 L295.5,102.7 L296.0,103.6 L296.6,103.9 L297.2,104.8 L297.8,104.7 L298.4,104.1 L299.0,103.6 L299.6,104.7 L300.2,104.8 L300.7,104.8 L301.3,104.5 L301.9,102.9 L302.5,103.4 L303.1,103.9 L303.7,104.0 L304.3,104.8 L304.9,103.3 L305.4,104.4 L306.0,103.7 L306.6,104.7 L307.2,103.3 L307.8,104.0 L308.4,103.1 L309.0,103.3 L309.6,105.1 L310.1,103.6 L310.7,105.0 L311.3,104.1 L311.9,103.0 L312.5,104.8 L313.1,103.0 L313.7,104.9 L314.3,102.9 L314.8,104.6 L315.4,103.3 L316.0,103.8 L316.6,105.3 L317.2,104.2 L317.8,104.6 L318.4,104.8 L319.0,103.3 L319.5,105.1 L320.1,105.2 L320.7,103.4 L321.3,104.4 L321.9,103.7 L322.5,104.9 L323.1,103.1 L323.7,104.3 L324.2,105.0 L324.8,104.9 L325.4,103.4 L326.0,105.1 L326.6,103.7 L327.2,105.1 L327.8,104.4 L328.3,103.6 L328.9,104.9 L329.5,105.1 L330.1,104.9 L330.7,105.5 L331.3,103.8 L331.9,103.8 L332.5,103.6 L333.0,104.6 L333.6,104.2 L334.2,104.2 L334.8,104.4 L335.4,104.0 L336.0,103.4 L336.6,104.5 L337.2,104.0 L337.7,104.5 L338.3,105.6 L338.9,103.9 L339.5,105.0 L340.1,105.0 L340.7,104.1 L341.3,104.6 L341.9,105.8 L342.4,104.3 L343.0,105.2 L343.6,105.5 L344.2,104.4 L344.8,105.9 L345.4,105.1 L346.0,104.8 L346.6,105.3 L347.1,104.6 L347.7,105.3 L348.3,104.3 L348.9,105.9 L349.5,105.0 L350.1,104.3 L350.7,104.8 L351.3,105.8 L351.8,105.7 L352.4,104.9 L353.0,104.6 L353.6,104.7 L354.2,106.1 L354.8,104.1 L355.4,105.9 L356.0,105.9 L356.5,104.4 L357.1,104.7 L357.7,105.2 L358.3,105.8 L358.9,106.2 L359.5,106.3 L360.1,104.6 L360.7,104.4 L361.2,105.1 L361.8,105.3 L362.4,105.6 L363.0,104.3 L363.6,105.6 L364.2,106.2 L364.8,106.2 L365.4,106.3 L365.9,106.3 L366.5,106.4 L367.1,104.3 L367.7,106.3 L368.3,104.8 L368.9,104.9 L369.5,105.3 L370.1,106.4 L370.6,105.6 L371.2,105.1 L371.8,105.1 L372.4,106.4 L373.0,106.2 L373.6,104.6 L374.2,104.9 L374.8,105.2 L375.3,104.9 L375.9,105.7 L376.5,104.9 L377.1,105.7 L377.7,106.6 L378.3,106.4 L378.9,104.7 L379.4,105.0 L380.0,105.4 L380.6,106.0 L381.2,105.4 L381.8,105.1 L382.4,105.3 L383.0,105.0 L383.6,106.5 L384.1,106.2 L384.7,105.5 L385.3,106.2 L385.9,105.8 L386.5,105.8 L387.1,105.5 L387.7,105.8 L388.3,106.9 L388.8,106.5 L389.4,106.6 L390.0,105.0 L390.6,105.9 L391.2,105.6 L391.8,105.0 L392.4,105.7 L393.0,105.0 L393.5,105.4 L394.1,106.6 L394.7,106.4 L395.3,106.5 L395.9,105.1 L396.5,105.3 L397.1,105.0 L397.7,105.2 L398.2,105.3 L398.8,107.2 L399.4,107.1 L400.0,105.6 L400.6,105.7 L401.2,107.3 L401.8,106.5 L402.4,106.1 L402.9,106.3 L403.5,105.9 L404.1,106.6 L404.7,107.0 L405.3,106.5 L405.9,107.2 L406.5,105.7 L407.1,106.8 L407.6,107.7 L408.2,105.9 L408.8,106.7 L409.4,107.0 L410.0,106.4 L410.6,107.8 L411.2,106.8 L411.8,106.8 L412.3,107.7 L412.9,105.8 L413.5,107.7 L414.1,106.1 L414.7,106.7 L415.3,107.0 L415.9,107.0 L416.5,106.0 L417.0,106.7 L417.6,106.8 L418.2,108.2 L418.8,108.1 L419.4,107.4 L420.0,108.3 L420.6,108.2 L421.2,107.1 L421.7,106.5 L422.3,107.7 L422.9,107.1 L423.5,106.4 L424.1,108.7 L424.7,108.7 L425.3,107.8 L425.9,108.0 L426.4,108.2 L427.0,108.8 L427.6,107.8 L428.2,108.1 L428.8,107.4 L429.4,107.4 L430.0,108.1 L430.5,107.5 L431.1,107.1 L431.7,107.9 L432.3,108.9 L432.9,107.8 L433.5,109.2 L434.1,108.9 L434.7,108.8 L435.2,109.4 L435.8,107.6 L436.4,107.9 L437.0,109.6 L437.6,109.7 L438.2,107.8 L438.8,109.5 L439.4,107.7 L439.9,108.0 L440.5,108.0 L441.1,108.5 L441.7,108.8 L442.3,110.1 L442.9,109.0 L443.5,108.3 L444.1,108.7 L444.6,108.1 L445.2,108.2 L445.8,109.2 L446.4,109.4 L447.0,108.9 L447.6,109.2 L448.2,108.6 L448.8,110.0 L449.3,109.4 L449.9,108.9 L450.5,109.7 L451.1,109.1 L451.7,109.3 L452.3,109.0 L452.9,110.6 L453.5,109.4 L454.0,111.1 L454.6,109.8 L455.2,109.3 L455.8,110.7 L456.4,110.8 L457.0,111.2 L457.6,109.4 L458.2,111.1 L458.7,111.3 L459.3,110.0 L459.9,110.4 L460.5,110.8 L461.1,110.0 L461.7,111.5 L462.3,111.2 L462.9,111.6 L463.4,110.7 L464.0,110.9 L464.6,110.1 L465.2,110.5 L465.8,111.5 L466.4,112.2 L467.0,110.2 L467.6,110.0 L468.1,110.1 L468.7,111.0 L469.3,112.0 L469.9,110.6 L470.5,111.3 L471.1,111.4 L471.7,112.3 L472.3,110.6 L472.8,110.3 L473.4,111.6 L474.0,111.3 L474.6,111.1 L475.2,112.4 L475.8,112.2 L476.4,110.8 L477.0,112.0 L477.5,112.7 L478.1,113.0 L478.7,110.7 L479.3,112.8 L479.9,110.9 L480.5,112.6 L481.1,112.4 L481.7,113.4 L482.2,112.6 L482.8,111.2 L483.4,112.8 L484.0,111.8 L484.6,113.3 L485.2,111.3 L485.8,112.1 L486.3,113.1 L486.9,111.8 L487.5,113.1 L488.1,113.3 L488.7,113.4 L489.3,113.8 L489.9,112.7 L490.5,112.0 L491.0,112.4 L491.6,112.7 L492.2,111.9 L492.8,113.7 L493.4,112.0 L494.0,112.1 L494.6,114.4 L495.2,114.1 L495.7,112.7 L496.3,113.0 L496.9,114.3 L497.5,113.8 L498.1,113.0 L498.7,113.5 L499.3,114.6 L499.9,112.5 L500.4,115.1 L501.0,114.1 L501.6,113.2 L502.2,114.9 L502.8,113.0 L503.4,114.0 L504.0,114.5 L504.6,113.7 L505.1,115.4 L505.7,115.0 L506.3,113.7 L506.9,113.7 L507.5,113.5 L508.1,115.0 L508.7,114.0 L509.3,115.0 L509.8,115.8 L510.4,116.1 L511.0,114.1 L511.6,114.7 L512.2,115.0 L512.8,115.0 L513.4,115.2 L514.0,115.4 L514.5,116.2 L515.1,115.1 L515.7,115.3 L516.3,115.5 L516.9,114.9 L517.5,116.3 L518.1,115.7 L518.7,117.2 L519.2,117.0 L519.8,115.4 L520.4,115.5 L521.0,117.1 L521.6,116.6 L522.2,115.1 L522.8,116.9 L523.4,116.3 L523.9,117.5 L524.5,117.4 L525.1,118.0 L525.7,117.4 L526.3,118.1 L526.9,116.4 L527.5,116.7 L528.1,116.0 L528.6,118.2 L529.2,116.4 L529.8,117.5 L530.4,117.5 L531.0,118.4 L531.6,117.3 L532.2,116.7 L532.8,117.5 L533.3,116.6 L533.9,117.4 L534.5,118.4 L535.1,116.9 L535.7,119.6 L536.3,118.4 L536.9,117.9 L537.4,119.4 L538.0,117.6 L538.6,118.2 L539.2,120.0 L539.8,118.1 L540.4,119.6 L541.0,117.8 L541.6,119.2 L542.1,119.6 L542.7,118.5 L543.3,118.9 L543.9,119.6 L544.5,119.8 L545.1,118.7 L545.7,119.5 L546.3,121.2 L546.8,119.4 L547.4,120.8 L548.0,119.2 L548.6,120.0 L549.2,120.3 L549.8,120.6 L550.4,121.0 L551.0,121.3 L551.5,121.2 L552.1,121.5 L552.7,121.9 L553.3,120.3 L553.9,121.9 L554.5,121.1 L555.1,120.4 L555.7,120.3 L556.2,122.0 L556.8,121.8 L557.4,120.2 L558.0,121.8 L558.6,120.3 L559.2,121.4 L559.8,122.0 L560.4,122.3 L560.9,121.0 L561.5,120.7 L562.1,122.4 L562.7,123.2 L563.3,123.2 L563.9,122.1 L564.5,122.8 L565.1,123.4 L565.6,123.9 L566.2,123.0 L566.8,124.2 L567.4,122.7 L568.0,122.5 L568.6,122.9 L569.2,124.3 L569.8,124.9 L570.3,123.8 L570.9,124.6 L571.5,123.0 L572.1,124.2 L572.7,124.2 L573.3,124.3 L573.9,123.7 L574.5,125.1 L575.0,125.4 L575.6,125.4 L576.2,125.8 L576.8,125.1 L577.4,126.4 L578.0,125.7 L578.6,126.7 L579.2,125.4 L579.7,126.4 L580.3,125.1 L580.9,124.8 L581.5,127.5 L582.1,125.9 L582.7,125.1 L583.3,126.9 L583.9,128.0 L584.4,127.6 L585.0,128.4 L585.6,128.4 L586.2,127.1 L588.0,127.1" stroke="#bf00bf"/>
</g>
<rect x="93.4" y="61.3" width="515.7" height="360.9" fill="none" stroke="#000" stroke-width="1.9"/>
<g stroke="#000" stroke-width="1.9"><line x1="116.9" y1="422.2" x2="116.9" y2="430.6"/><line x1="234.2" y1="422.2" x2="234.2" y2="430.6"/><line x1="351.6" y1="422.2" x2="351.6" y2="430.6"/><line x1="468.9" y1="422.2" x2="468.9" y2="430.6"/><line x1="586.2" y1="422.2" x2="586.2" y2="430.6"/><line x1="85.2" y1="405.8" x2="93.4" y2="405.8"/><line x1="85.2" y1="339.8" x2="93.4" y2="339.8"/><line x1="85.2" y1="273.8" x2="93.4" y2="273.8"/><line x1="85.2" y1="207.8" x2="93.4" y2="207.8"/><line x1="85.2" y1="141.8" x2="93.4" y2="141.8"/><line x1="85.2" y1="75.8" x2="93.4" y2="75.8"/></g>
<g><text x="116.9" y="456.9" text-anchor="middle" textLength="13.9" lengthAdjust="spacingAndGlyphs">0</text><text x="234.2" y="456.9" text-anchor="middle" textLength="28.8" lengthAdjust="spacingAndGlyphs">20</text><text x="351.6" y="456.9" text-anchor="middle" textLength="28.8" lengthAdjust="spacingAndGlyphs">40</text><text x="468.9" y="456.9" text-anchor="middle" textLength="28.8" lengthAdjust="spacingAndGlyphs">60</text><text x="586.2" y="456.9" text-anchor="middle" textLength="28.8" lengthAdjust="spacingAndGlyphs">80</text><text x="76.2" y="414.8" text-anchor="end" textLength="36.4" lengthAdjust="spacingAndGlyphs">0.0</text><text x="76.2" y="348.8" text-anchor="end" textLength="36.4" lengthAdjust="spacingAndGlyphs">0.5</text><text x="76.2" y="282.8" text-anchor="end" textLength="36.4" lengthAdjust="spacingAndGlyphs">1.0</text><text x="76.2" y="216.8" text-anchor="end" textLength="36.4" lengthAdjust="spacingAndGlyphs">1.5</text><text x="76.2" y="150.8" text-anchor="end" textLength="36.4" lengthAdjust="spacingAndGlyphs">2.0</text><text x="76.2" y="84.8" text-anchor="end" textLength="36.4" lengthAdjust="spacingAndGlyphs">2.5</text></g>
<text transform="translate(26.0,241.3) rotate(-90)" text-anchor="middle" textLength="127.5" lengthAdjust="spacingAndGlyphs">Batch Loss</text>
<text x="281.2" y="492.8" textLength="71.7" lengthAdjust="spacingAndGlyphs">Epoch</text>
<text x="361.4" y="492.8" textLength="47" lengthAdjust="spacingAndGlyphs">×10</text>
<text x="410.2" y="484.0" style="font-size:17.6px" textLength="10.6" lengthAdjust="spacingAndGlyphs">3</text>
<rect x="402.8" y="134.3" width="195.2" height="213.9" rx="3.5" ry="3.5" fill="#fff" fill-opacity="0.8" stroke="#cccccc" stroke-opacity="0.8" stroke-width="1.9"/>
<g><line x1="412.6" y1="153.5" x2="459.3" y2="153.5" stroke="#ff0000" stroke-width="3.7" stroke-linecap="square"/><text x="478.0" y="162.2" textLength="110.5" lengthAdjust="spacingAndGlyphs">GE-Adam</text><line x1="412.6" y1="188.1" x2="459.3" y2="188.1" stroke="#008000" stroke-width="3.7" stroke-linecap="square"/><text x="478.0" y="196.8" textLength="68.5" lengthAdjust="spacingAndGlyphs">Adam</text><line x1="412.6" y1="222.7" x2="459.3" y2="222.7" stroke="#0000ff" stroke-width="3.7" stroke-linecap="square"/><text x="478.0" y="231.4" textLength="51" lengthAdjust="spacingAndGlyphs">SGD</text><line x1="412.6" y1="257.3" x2="459.3" y2="257.3" stroke="#ffa500" stroke-width="3.7" stroke-linecap="square"/><text x="478.0" y="266.0" textLength="104.5" lengthAdjust="spacingAndGlyphs">RMSProp</text><line x1="412.6" y1="291.9" x2="459.3" y2="291.9" stroke="#800080" stroke-width="3.7" stroke-linecap="square"/><text x="478.0" y="300.6" textLength="103" lengthAdjust="spacingAndGlyphs">AdaGrad</text><line x1="412.6" y1="326.5" x2="459.3" y2="326.5" stroke="#bf00bf" stroke-width="3.7" stroke-linecap="square"/><text x="478.0" y="335.2" textLength="106.8" lengthAdjust="spacingAndGlyphs">AdaDelta</text></g>
</svg>
</body></html>
